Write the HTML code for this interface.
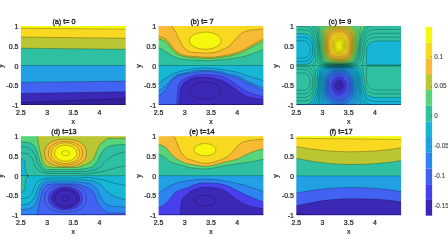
<!DOCTYPE html>
<html><head><meta charset="utf-8"><style>
html,body{margin:0;padding:0;background:#fff;width:448px;height:252px;overflow:hidden}
.t{position:absolute;font-family:"Liberation Sans",Arial,sans-serif;font-size:7px;color:#1e1e1e;white-space:pre;line-height:1;-webkit-text-stroke:0.22px #1e1e1e}
.cb{color:#3a3a3a;-webkit-text-stroke:0.1px #3a3a3a}
.tt{-webkit-text-stroke:0.35px #1e1e1e}
</style></head><body>
<svg width="448" height="252" viewBox="0 0 448 252" style="position:absolute;left:0;top:0">
<defs><mask id="cpa" maskUnits="userSpaceOnUse" x="0" y="0" width="448" height="252"><rect x="20.9" y="26" width="104.8" height="79" fill="#fff"/></mask><mask id="cpb" maskUnits="userSpaceOnUse" x="0" y="0" width="448" height="252"><rect x="158.6" y="26" width="104.8" height="79" fill="#fff"/></mask><mask id="cpc" maskUnits="userSpaceOnUse" x="0" y="0" width="448" height="252"><rect x="296.3" y="26" width="104.8" height="79" fill="#fff"/></mask><mask id="cpd" maskUnits="userSpaceOnUse" x="0" y="0" width="448" height="252"><rect x="20.9" y="136.2" width="104.8" height="79" fill="#fff"/></mask><mask id="cpe" maskUnits="userSpaceOnUse" x="0" y="0" width="448" height="252"><rect x="158.6" y="136.2" width="104.8" height="79" fill="#fff"/></mask><mask id="cpf" maskUnits="userSpaceOnUse" x="0" y="0" width="448" height="252"><rect x="296.3" y="136.2" width="104.8" height="79" fill="#fff"/></mask></defs>
<g mask="url(#cpa)">
<rect x="18.9" y="24" width="108.8" height="83" fill="#30209c"/>
<path d="M19.3 102.5 127.3 98.4 127.3 24.4 19.3 24.4 19.3 102.5Z" fill="#3c28b6"/>
<path d="M19.3 92.9 19.3 93.5 127.3 91.7 127.3 24.4 19.3 24.4 19.3 92.9Z" fill="#4262f2"/>
<path d="M19.3 81.9 19.3 82.4 127.3 81.1 127.3 24.4 19.3 24.4 19.3 81.9Z" fill="#22a0e4"/>
<path d="M19.3 64.8 19.3 65.5 127.3 65.5 127.3 24.4 19.3 24.4 19.3 64.8Z" fill="#2ec0a0"/>
<path d="M103.6 49.1 127.3 49.3 127.3 24.4 19.3 24.4 19.3 48.2 103.6 49.1Z" fill="#bac632"/>
<path d="M110.7 38.1 127.3 38.3 127.3 24.4 19.3 24.4 19.3 37 110.7 38.1Z" fill="#f8d820"/>
<path d="M50.8 28.5 127.3 29.1 127.3 24.4 19.3 24.4 19.3 28.3 50.8 28.5Z" fill="#f5f80c"/>
<path d="M19.3 102.6 127.3 98.4M19.3 93.5 127.3 91.7M19.3 82.4 127.3 81.1M19.3 65.5 127.3 65.5M19.3 48.2 127.3 49.3M19.3 37 127.3 38.3M19.3 28.3 127.3 29.1" fill="none" stroke="#000" stroke-opacity="0.50" stroke-width="0.50"/>
<path d="M20.9 104.6H125.7" stroke="#140a60" stroke-width="0.8" stroke-opacity="0.8"/>
</g>
<g mask="url(#cpb)">
<rect x="156.6" y="24" width="108.8" height="83" fill="#3c28b6"/>
<path d="M157 106.6 178.1 106.6 178.6 104.2 180.6 88.9 182 85.7 183.3 83.8 184.5 82.6 188.3 79.9 189.4 79.3 191.4 78.5 196.2 77.1 208.3 77.2 215 78.5 220.2 79.9 222.5 80.7 225.9 82.6 236 89.5 242 94 245.4 96 248.1 96.8 254.9 98.3 259.6 98.9 265 99 265 24.4 157 24.4 157 106.6Z" fill="#4840ec"/>
<path d="M157 106.6 169.8 106.6 174.6 105.3 175.9 104.6 176.6 104 177.9 87.3 178.8 84.7 179.8 82.6 182 80.4 186 78.1 189.4 76.7 191.4 76.1 194.8 75.3 197.5 74.8 204.9 74.5 211.7 74.7 217.1 75.3 222.5 76.6 225.8 77.9 229.2 79.7 242.2 88.8 246.8 91.4 252.1 93.6 256.1 94.9 261.6 96.2 265 96.6 265 24.4 157 24.4 157 106.6Z" fill="#4262f2"/>
<path d="M157 94.9 157 95.6 159.1 95.4 161.8 94 163.8 92.3 165.5 90.1 171.9 80.5 174.6 77.8 175.9 77.1 176.6 76.5 177.3 76.3 178.1 75.8 180.6 75.1 187.1 73.7 200.1 71.7 205.6 71 212.8 71.7 217.1 72.4 222.7 73.7 227.9 75.5 234.8 77.1 236.9 77.8 239.9 79.2 246.8 82.9 265 91.4 265 24.4 157 24.4 157 94.9Z" fill="#2c84f0"/>
<path d="M157 92.2 157 92.5 158.6 91.5 162.4 88.5 165.8 85.3 171.9 78.8 174.6 76.7 176.6 75.4 177.9 74.7 180.6 73.9 195.5 70.7 197.5 70.5 209 70.4 217.7 71.2 222.5 72.1 227 73.7 229.2 74.2 236 75.5 239.3 76.8 246.1 80.6 249.1 81.9 256.8 85.4 265 88.6 265 24.4 157 24.4 157 92.2Z" fill="#22a0e4"/>
<path d="M157 85.4 157 85.7 161.1 81.6 164.4 79 170.5 75.4 176.6 72.5 178.6 71.8 186.7 70 196.2 68.5 201.6 68.1 208.3 68.1 216.4 68.7 236 72 239.3 72.9 249.5 76.5 265 81.1 265 24.4 157 24.4 157 85.4Z" fill="#16b6d4"/>
<path d="M157 64.8 157 65.5 265 65.5 265 24.4 157 24.4 157 64.8Z" fill="#2ec0a0"/>
<path d="M191.5 60 204.3 60.6 212.3 60.7 217.1 60.3 235.3 58.2 242 56.9 247.4 55.5 265 49 265 24.4 157 24.4 157 46.8 163.1 50 170.8 55.2 175.2 57.3 178.6 58.4 182.7 59.5 191.5 60Z" fill="#58d47a"/>
<path d="M197 58 203.6 58.4 210.3 58.5 214.4 58.3 219.1 57.8 227.9 56.3 233.9 55 238.7 53.6 243.4 51.6 265 40 265 24.4 157 24.4 157 39.4 159.1 39.3 161.1 39.5 164.4 40.9 166.7 42.2 167.8 43.4 172.1 49.1 174.4 51.8 175.9 53 179.3 54.9 182.7 56.2 186 57 192.1 57.7 197 58Z" fill="#bac632"/>
<path d="M207.8 57.3 213 57.2 218.6 56.6 222.8 55.9 230.2 54.5 237.5 52.5 242.6 50.4 260.8 40.2 265 37.7 265 24.4 157 24.4 157 36.8 159.1 36.7 161.1 37 163.1 37.7 166.5 39.5 168.3 41.5 172.6 47.7 174.6 50 176.8 51.8 181.7 54.5 183.3 55.2 186.7 55.9 193.6 56.6 207.8 57.3Z" fill="#f6ba34"/>
<path d="M194.6 52.5 204.3 52.9 211.7 52.9 215.7 52.2 221 50.4 226.5 47.8 229.2 46.2 231.2 44.1 239.3 35 240.7 33.8 242 33 245.4 31.3 248.8 30.4 257.6 29.4 265 29.1 265 24.4 168.6 24.4 169.8 24.8 171.2 25.6 172.5 27.1 174 29.2 175.9 32.4 181.3 43.6 183.3 46.9 186.7 50.1 189.4 51.8 190.8 52.1 194.6 52.5Z" fill="#f8d820"/>
<path d="M178.1 106.6 178.6 104.2 180.6 88.9 182 85.7 183.3 83.8 184.5 82.6 188.3 79.9 189.4 79.3 191.4 78.5 196.2 77.1 208.3 77.2 215 78.5 220.2 79.9 222.5 80.7 225.9 82.6 236 89.5 242 94 245.4 96 248.1 96.8 254.9 98.3 259.6 98.9 265 99M169.8 106.6 174.9 105.2 176.6 104 177.9 87.3 179.1 84 180.4 81.9 182.7 80 184.7 78.8 187.4 77.5 189.4 76.7 194.1 75.4 197.5 74.8 204.9 74.5 211.7 74.7 217.1 75.3 222.5 76.6 225.8 77.9 229.2 79.7 242.2 88.8 246.8 91.4 252.1 93.6 256.1 94.9 261.6 96.2 265 96.6M157 95.6 159.1 95.4 160.4 94.8 162.4 93.5 163.8 92.3 165.5 90.1 171.9 80.5 174.6 77.8 175.9 77.1 176.6 76.5 177.3 76.3 178.1 75.8 180.6 75.1 187.1 73.7 200.1 71.7 205.6 71 212.8 71.7 217.1 72.4 222.7 73.7 227.9 75.5 234.8 77.1 236.9 77.8 239.9 79.2 246.8 82.9 265 91.4M157 92.5 159.5 90.8 162.9 88.1 165.8 85.3 171.9 78.8 174.6 76.7 176.6 75.4 177.9 74.7 180.6 73.9 195.5 70.7 197.5 70.5 209 70.4 217.7 71.2 222.5 72.1 227 73.7 229.2 74.2 236 75.5 239.3 76.8 246.1 80.6 249.1 81.9 256.8 85.4 265 88.6M157 85.7 161.1 81.6 164.4 79 170.5 75.4 176.6 72.5 178.6 71.8 186.7 70 196.2 68.5 200.9 68.1 208.3 68.1 216.4 68.7 235.3 71.8 238.7 72.7 246.1 75.4 251.5 77.1 265 81.1M157 65.5 265 65.5M157 46.8 163.1 50 170.8 55.2 174.6 57 178.6 58.4 182 59.3 184 59.6 206.3 60.7 211.7 60.7 216.4 60.4 233.9 58.4 239.3 57.4 244.1 56.4 248.1 55.3 265 49M157 39.4 159.1 39.3 161.1 39.5 163.1 40.3 165.8 41.6 167.1 42.6 167.8 43.4 172.1 49.1 174.6 52 175.9 53 177.9 54.2 181.3 55.8 183.3 56.4 186 57 191.4 57.6 202.2 58.3 209 58.5 213.7 58.4 219.8 57.7 231.2 55.7 236.6 54.3 240.7 52.8 243.4 51.6 265 40M157 36.8 159.1 36.7 161.1 37 163.1 37.7 166.5 39.5 168.3 41.5 172.6 47.7 175.1 50.4 177.9 52.5 181.7 54.5 183.3 55.2 186.8 55.9 193.5 56.6 207.8 57.3 213 57.2 218.6 56.6 222.8 55.9 230.2 54.5 237.5 52.5 242.7 50.4 265 37.7M168.6 24.4 170.6 25.1 171.9 26.3 173.2 28.1 175.9 32.4 178.9 38.8 182.5 45.6 183.3 46.9 185.4 48.9 188.1 51.1 190.1 52 193.5 52.4 198.9 52.7 206.3 53 211.7 52.9 215 52.4 219.3 51.1 225.2 48.5 227.9 47.1 229.2 46.2 231.2 44.1 239.3 35 240.7 33.8 244.1 31.9 246.8 30.9 250.8 30.1 258.9 29.3 265 29.1" fill="none" stroke="#000" stroke-opacity="0.50" stroke-width="0.50"/>
<path d="M221.2 40.7C221.2 42.1 220.4 43.8 219.1 45C217.7 46.2 215.5 47.4 213.2 48.1C211 48.9 208 49.3 205.3 49.3C202.7 49.3 199.6 48.9 197.4 48.1C195.1 47.4 192.9 46.2 191.5 45C190.2 43.8 189.4 42.1 189.4 40.7C189.4 39.3 190.2 37.6 191.5 36.4C192.9 35.2 195.1 34 197.3 33.3C199.6 32.5 202.7 32.1 205.3 32.1C208 32.1 211 32.5 213.2 33.3C215.5 34 217.7 35.2 219.1 36.4C220.4 37.6 221.2 39.3 221.2 40.7Z" fill="#f5f80c" stroke="#000" stroke-opacity="0.5" stroke-width="0.5"/>
<path d="M220.7 90.7C220.7 92.1 219.9 93.8 218.6 95C217.4 96.2 215.2 97.4 213 98.1C210.8 98.9 207.9 99.3 205.3 99.3C202.7 99.3 199.8 98.9 197.6 98.1C195.4 97.4 193.2 96.2 192 95C190.7 93.8 189.9 92.1 189.9 90.7C189.9 89.3 190.7 87.6 192 86.4C193.2 85.2 195.4 84 197.6 83.3C199.8 82.5 202.7 82.1 205.3 82.1C207.9 82.1 210.8 82.5 213 83.3C215.2 84 217.4 85.2 218.6 86.4C219.9 87.6 220.7 89.3 220.7 90.7Z" fill="none" stroke="#000" stroke-opacity="0.5" stroke-width="0.5"/>
<path d="M158.6 104.6H263.4" stroke="#140a60" stroke-width="0.8" stroke-opacity="0.8"/>
</g>
<g mask="url(#cpc)">
<rect x="294.3" y="24" width="108.8" height="83" fill="#3c28b6"/>
<path d="M294.7 106.6 402.7 106.6 402.7 24.4 294.7 24.4 294.7 106.6Z" fill="#3c28b6"/>
<path d="M294.7 106.6 402.7 106.6 402.7 24.4 294.7 24.4 294.7 106.6Z" fill="#3c28b6"/>
<path d="M294.7 106.6 402.7 106.6 402.7 24.4 294.7 24.4 294.7 106.6Z" fill="#3c28b6"/>
<path d="M294.7 106.6 402.7 106.6 402.7 24.4 294.7 24.4 294.7 106.6ZM338.6 86.8 338.1 86 338 85.4 338.6 84.4 339.3 84.2 339.9 84.7 340.2 85.4 340.1 86 339.9 86.5 339.3 87 338.6 86.8Z" fill="#3c28b6"/>
<path d="M294.7 106.6 402.7 106.6 402.7 24.4 294.7 24.4 294.7 106.6ZM338.6 89 337.9 88.7 337.2 88.1 336.8 87.4 336.6 86.7 336.4 85.4 336.7 84 337.2 83.1 337.9 82.5 339.3 82.1 340.5 82.6 341.1 83.3 341.7 84.7 341.8 86 341.4 87.4 340.6 88.4 339.9 88.9 338.6 89Z" fill="#3c28b6"/>
<path d="M294.7 106.6 402.7 106.6 402.7 24.4 294.7 24.4 294.7 106.6ZM337.9 89.9 336.6 88.8 335.8 87.4 335.6 86 335.7 84 336.4 82.6 337.2 81.6 338.6 81 339.9 81.1 341.3 81.9 342.2 83.3 342.6 85.1 342.5 86.7 342 88.3 341.3 89.2 340.6 89.7 339.3 90.1 337.9 89.9Z" fill="#3c28b6"/>
<path d="M294.7 106.6 402.7 106.6 402.7 24.4 294.7 24.4 294.7 106.6ZM338.6 90.9 337.2 90.4 335.9 89 335.2 87.4 334.9 85.4 335.3 83.3 336 81.9 337.2 80.8 337.9 80.4 339.3 80.2 340.6 80.6 341.3 81 342.2 81.9 343.1 84 343.3 86 342.8 88.1 342 89.5 340.6 90.6 339.9 90.8 338.6 90.9Z" fill="#4840ec"/>
<path d="M294.7 106.6 402.7 106.6 402.7 24.4 294.7 24.4 294.7 106.6ZM337.9 91.5 336.6 90.8 335.9 90.2 335 88.8 334.4 86.7 334.5 84 335.2 81.9 336.6 80.4 337.9 79.7 339.9 79.6 340.8 79.9 341.8 80.6 343 81.9 343.7 84 343.8 86.7 343.2 88.8 342 90.6 341.3 91.1 339.9 91.6 337.9 91.5Z" fill="#4840ec"/>
<path d="M294.7 106.6 402.7 106.6 402.7 24.4 294.7 24.4 294.7 106.6ZM337.9 92.4 336.6 91.8 335.9 91.3 334.5 89.5 334 88.1 333.8 86.7 333.8 84 334.5 81.9 335.9 80.1 336.6 79.6 337.9 78.9 339.9 78.9 341.3 79.3 342.1 79.9 342.8 80.6 343.7 81.9 344.2 83.3 344.5 84.7 344.3 87.4 344 88.8 343.3 90.1 342 91.6 339.9 92.5 337.9 92.4Z" fill="#4840ec"/>
<path d="M294.7 106.6 402.7 106.6 402.7 24.4 294.7 24.4 294.7 106.6ZM337.2 93 335.2 91.7 333.8 89.5 333.1 86.7 333.2 84 333.5 82.6 334.1 81.2 335.1 79.9 335.9 79.2 337.9 78.2 339.9 78.2 341.3 78.6 342.3 79.2 343.3 80.1 344.1 81.2 344.9 83.3 345.1 84.7 344.9 88.1 344.4 89.5 343.7 90.8 342 92.5 339.9 93.3 338.6 93.3 337.2 93Z" fill="#4840ec"/>
<path d="M294.7 106.6 402.7 106.6 402.7 24.4 294.7 24.4 294.7 106.6ZM337.9 94.3 336.6 93.9 335.2 93 334.4 92.2 333.4 90.8 332.5 88.1 332.3 84.7 332.7 82.6 333.3 81.2 334.8 79.2 335.9 78.3 337.2 77.7 338.6 77.4 339.9 77.4 342 78.1 343.4 79.2 344.5 80.6 345.2 81.9 345.8 84 345.8 87.4 345.1 90.1 344.4 91.5 343.3 92.8 342 93.7 340.6 94.2 339.3 94.4 337.9 94.3Z" fill="#4840ec"/>
<path d="M294.7 106.6 402.7 106.6 402.7 24.4 294.7 24.4 294.7 106.6ZM338.6 95.7 337.2 95.5 335.9 94.9 334.5 94.1 333.2 92.6 332.2 90.8 331.7 89.5 331.4 87.4 331.3 85.4 331.5 83.3 331.9 81.9 332.5 80.6 333.4 79.2 334.5 78.1 335.9 77.3 337.2 76.8 339.3 76.6 340.6 76.7 342 77.1 343.3 77.9 344.8 79.2 345.7 80.6 346.5 82.6 346.9 84.7 346.9 86.7 346.6 88.8 346 90.8 345.3 92.2 344.2 93.6 343.3 94.3 342 95.1 340.6 95.5 338.6 95.7Z" fill="#4262f2"/>
<path d="M294.7 106.6 402.7 106.6 402.7 24.4 294.7 24.4 294.7 106.6ZM335.9 96.3 334.5 95.6 333 94.3 332 92.9 331.2 91.2 330.6 89.5 330.4 87.4 330.4 84.7 330.7 82.6 331.4 80.6 332.2 79.2 333.2 78 334.5 76.9 335.9 76.3 337.9 75.7 339.9 75.7 341.3 75.9 343.3 76.7 344.7 77.7 346 79.2 346.8 80.6 347.5 82.6 347.8 84.7 347.8 87.4 347.4 90.1 346.7 92.1 345.8 93.6 344.7 94.8 343.3 95.8 342 96.5 339.9 97 337.9 96.9 335.9 96.3Z" fill="#4262f2"/>
<path d="M294.7 106.6 402.7 106.6 402.7 24.4 294.7 24.4 294.7 106.6ZM335.9 97.7 333.9 96.7 332.5 95.5 331.2 93.8 330.4 92.2 329.7 90.1 329.4 87.4 329.4 84.7 329.8 81.9 330.6 79.9 331.4 78.5 332.7 77.1 334.5 75.9 335.9 75.3 337.9 74.9 339.9 74.9 342 75.2 344 76.1 345.5 77.1 346.8 78.5 347.9 80.6 348.5 82.6 348.9 85.4 348.8 88.1 348.3 90.8 347.5 92.9 346.7 94.4 345.3 95.9 343.8 97 342 97.8 339.9 98.2 337.9 98.2 335.9 97.7Z" fill="#4262f2"/>
<path d="M294.7 106.6 402.7 106.6 402.7 24.4 294.7 24.4 294.7 106.6ZM335.9 99.1 333.2 97.7 331.8 96.6 330.5 94.9 329.2 92.2 328.5 88.8 328.4 86.7 328.5 84 329.1 80.8 329.8 79.2 331.2 77.3 332.5 76.1 333.9 75.2 335.9 74.5 337.9 74.1 339.9 74.1 342 74.4 344 75.1 346 76.3 347.5 77.8 348.7 79.9 349.4 82.4 349.7 85.4 349.7 88.1 349.4 91 348.7 93 347.4 95.4 346 97 344 98.4 342.3 99 339.9 99.4 337.9 99.4 335.9 99.1Z" fill="#4262f2"/>
<path d="M294.7 106.6 402.7 106.6 402.7 24.4 294.7 24.4 294.7 106.6ZM335.9 99.9 333.9 99.1 331.8 97.7 330 95.6 328.9 93.6 328.1 90.8 327.8 88.1 328 84 328.5 80.7 329.1 78.9 330.5 76.7 331.4 75.8 333.2 74.6 335.2 73.9 337.9 73.4 340.6 73.4 342.6 73.8 344.7 74.5 346.7 75.7 348 77.1 348.9 78.5 349.8 81.2 350.3 84.7 350.3 88.8 349.9 91.5 349.3 93.6 348 95.8 346.7 97.4 344.7 98.9 342.6 99.8 340.6 100.2 337.9 100.3 335.9 99.9Z" fill="#4262f2"/>
<path d="M294.7 106.6 402.7 106.6 402.7 24.4 294.7 24.4 294.7 106.6ZM339.3 101.1 336.6 100.9 334.5 100.2 332.3 99 330.5 97.4 329.1 95.6 328 92.9 327.5 90.8 327.3 88.1 327.5 84 327.8 81.2 328.5 78.9 329.8 76.5 331.2 75.1 333.2 73.8 335.9 73 338.6 72.7 342 72.9 344.7 73.6 346.2 74.4 348 76.1 349.2 77.8 350.1 80.6 350.7 83.3 350.9 87.4 350.8 90.1 350.2 92.9 349.4 95 348 97.1 346 99 344 100.1 342 100.8 339.3 101.1Z" fill="#2c84f0"/>
<path d="M294.7 106.6 402.7 106.6 402.7 24.4 294.7 24.4 294.7 106.6ZM337.9 101.8 335.2 101.3 332.5 100.1 330.5 98.5 328.7 96.3 327.7 94.3 327.1 92.2 326.8 88.1 327 83.3 327.6 79.9 328.5 77.5 329.6 75.8 331 74.4 333.2 73.1 335.2 72.4 337.9 72.1 341.3 72.2 343.3 72.5 344.7 72.9 346.2 73.7 348 75.2 349.4 77.1 350.5 79.9 351.2 83.3 351.4 88.1 351.3 91.5 350.5 94.3 349.5 96.3 348 98.2 346.7 99.4 344.7 100.7 342.6 101.4 340.6 101.8 337.9 101.8Z" fill="#2c84f0"/>
<path d="M294.7 106.6 402.7 106.6 402.7 24.4 294.7 24.4 294.7 106.6ZM337.2 102.6 333.9 101.7 331.5 100.4 329.2 98.4 327.8 96.2 326.8 93.6 326.4 90.8 326.4 86.7 326.7 81.9 327.3 79.2 328.4 76.5 329.4 75.1 331.2 73.6 333.5 72.3 336.1 71.7 339.3 71.5 342 71.6 344.7 72.3 347.3 73.7 348.7 75 350 77.1 351.1 79.9 351.7 83.3 352 88.1 351.8 92.2 351 94.9 350 97 348.3 99 346.7 100.4 344.7 101.5 342.6 102.2 339.9 102.7 337.2 102.6Z" fill="#2c84f0"/>
<path d="M294.7 106.6 402.7 106.6 402.7 24.4 294.7 24.4 294.7 106.6ZM336.6 103.3 333.9 102.6 331 101.1 328.8 99 327 96.3 326.3 94.3 325.8 90.1 325.9 84.7 326.3 81.2 327 78.5 328.1 75.8 329.2 74.4 331.2 72.9 333.9 71.7 336.6 71.1 339.9 71 342.6 71.3 345.3 72 348 73.5 349.4 74.9 350.6 77.1 351.8 80.6 352.3 84 352.5 89.5 352.2 93.6 351.4 95.9 350 98.3 348.7 99.8 346.7 101.4 344.7 102.4 342 103.2 339.3 103.5 336.6 103.3Z" fill="#2c84f0"/>
<path d="M294.7 106.6 402.7 106.6 402.7 24.4 294.7 24.4 294.7 106.6ZM335.2 103.8 332.5 102.9 329.7 101.1 327.7 99 326.1 96.3 325.5 92.9 325.3 88.1 325.6 82.6 326.4 78.5 327.5 75.8 328.5 74.2 330.5 72.6 332.3 71.7 335.2 70.8 338.6 70.5 342 70.7 344.7 71.2 347.3 72.3 349.1 73.7 350.6 75.8 351.8 78.5 352.5 81.2 352.9 84.7 353.1 90.1 352.7 94.4 351.8 97 350.5 99 348.7 101 346.5 102.5 344 103.6 341.3 104.2 337.9 104.3 335.2 103.8Z" fill="#2c84f0"/>
<path d="M294.7 106.6 402.7 106.6 402.7 24.4 294.7 24.4 294.7 106.6ZM334.5 104.5 331.8 103.5 329.1 101.8 327.1 99.6 325.6 97 324.9 92.9 324.8 88.1 325.1 81.9 326.1 77.8 327.1 75.2 328.1 73.7 329.8 72.3 332.5 71 335.9 70.3 339.3 70.1 342.6 70.3 345.5 71 348 72.1 349.4 73.1 351.2 75.8 352.4 78.5 353.2 82.6 353.6 88.1 353.6 92.2 353.2 95.6 351.9 98.4 350.5 100.4 348.7 102.1 346 103.7 343.3 104.6 340.6 105.1 337.2 105 334.5 104.5Z" fill="#22a0e4"/>
<path d="M294.7 106.6 402.7 106.6 402.7 24.4 294.7 24.4 294.7 106.6ZM337.2 106 333.2 105.1 329.8 103.5 328.5 102.5 327.1 101.1 325.2 98.4 324.6 95.6 324.2 90.8 324.4 84 324.8 80.6 325.7 77.1 326.9 74.4 327.8 73 329.8 71.6 332.5 70.5 335.9 69.8 339.9 69.6 344 70.1 347.1 71 348.7 71.8 349.4 72.3 351.1 74.4 352.5 77.1 353.5 80.6 353.9 84 354.3 90.8 354 95.6 353 98.4 351.7 100.4 350 102.2 348 103.7 345.3 105 342.6 105.7 339.9 106 337.2 106Z" fill="#22a0e4"/>
<path d="M294.7 106.6 334.9 106.6 331.8 105.6 329.1 104.2 327 102.5 324.9 99.7 324.1 97 323.7 92.9 323.7 88.8 324.1 81.9 324.7 78.5 325.3 76.5 326.6 73.7 327.8 72.1 329.8 70.9 332.5 69.9 335.9 69.4 339.3 69.2 342.6 69.4 346 70 348.7 71 350 72.1 351.8 74.4 353.1 77.1 353.9 79.9 354.4 83.3 354.9 90.1 354.9 94.3 354.6 97 353.7 99 351.9 101.8 349.6 103.8 346.7 105.5 343.3 106.6 402.7 106.6 402.7 24.4 294.7 24.4 294.7 106.6Z" fill="#22a0e4"/>
<path d="M294.7 106.6 331.6 106.6 328.7 105.2 326.9 103.8 325 101.8 323.9 99.7 323.2 95.6 323 91.5 323.4 83.3 324 79.2 324.7 76.5 325.5 74.4 326.7 72.3 327.8 71.3 329.8 70.2 332.5 69.4 335.9 68.9 339.3 68.8 342.6 68.9 345.3 69.3 348 70.1 349.6 71 351.1 72.3 352.6 74.4 353.8 77.1 354.6 79.9 355.1 83.3 355.6 90.8 355.6 94.3 355.3 97.7 354.1 100.4 352.1 103.1 349.5 105.2 346.6 106.6 402.7 106.6 402.7 24.4 294.7 24.4 294.7 106.6Z" fill="#22a0e4"/>
<path d="M294.7 106.6 329.2 106.6 326.4 104.9 324.7 103.2 323.4 101.1 322.9 99 322.4 94.9 322.4 90.1 322.9 81.9 323.8 77.1 324.5 75.1 325.4 73 327 71 327.8 70.4 329.7 69.6 332.5 68.9 335.9 68.5 339.3 68.4 342.6 68.5 345.8 68.9 348.5 69.6 349.8 70.3 351.4 71.7 353 73.7 354 75.8 354.9 78.5 355.6 82.6 356.3 90.8 356.3 95.6 355.9 99 354.6 101.8 352.9 103.8 350.7 105.7 349.1 106.6 402.7 106.6 402.7 24.4 294.7 24.4 294.7 106.6Z" fill="#22a0e4"/>
<path d="M294.7 106.6 326 106.6 324.2 105.2 322.5 103.2 321.9 98.4 321.7 92.2 322.2 83.3 322.7 79.2 323.7 75.2 325.1 72.3 326 71 327.1 69.9 329.1 69.1 332.5 68.4 335.9 68.1 339.3 68 342.6 68.1 346 68.5 348.7 69 349.9 69.6 351.8 71 353 72.3 354.1 74.3 355 76.5 355.9 79.9 356.3 83.3 357.1 92.9 357.3 99.7 356.5 101.8 355.2 103.8 354 105.2 352.2 106.6 402.7 106.6 402.7 24.4 294.7 24.4 294.7 106.6Z" fill="#22a0e4"/>
<path d="M294.7 106.6 323.3 106.6 321.7 105.2 321.3 104.5 321 101.8 320.8 97.7 321.8 81.2 322.3 77.8 323.5 73.7 325 71 326.3 69.6 327.1 69.1 329.8 68.4 332.5 68 339.3 67.6 346 68 348.7 68.4 350 68.9 351.4 69.7 352.8 71 354.3 73 355.3 75.1 355.8 76.5 356.6 79.9 358.4 95.6 358.7 100.4 358.5 101.8 357.5 103.8 356.5 105.2 354.9 106.6 402.7 106.6 402.7 24.4 294.7 24.4 294.7 106.6Z" fill="#16b6d4"/>
<path d="M294.7 106.6 320 106.6 319.7 102.5 319.7 98.4 321.1 81.2 322 75.8 322.6 73.7 323.4 71.7 324.9 69.6 325.8 68.9 327.1 68.3 331.9 67.6 339.3 67.2 346.3 67.6 348.7 67.8 350 68.2 351.5 68.9 353.3 70.3 354.5 71.7 355.7 73.7 356.7 76.5 357.4 79.2 358.2 86.7 359.7 96.3 360.1 101.1 360.5 102.5 360.5 103.2 359.9 104.5 358.2 106.6 402.7 106.6 402.7 24.4 294.7 24.4 294.7 106.6Z" fill="#16b6d4"/>
<path d="M294.7 106.6 317.2 106.6 318.3 102.3 318.7 97 320.5 78.5 321.3 74.4 322.5 71 323.4 69.6 324 68.9 325.1 68.2 326.4 67.7 331.8 67.1 339.3 66.9 346.7 67.1 350 67.6 351.9 68.2 353.4 69 354.8 70.2 355.9 71.7 357.2 74.4 358.1 77.8 359.3 87.4 361.1 97 362.2 99.9 364.9 105.2 363.9 106.6 402.7 106.6 402.7 24.4 294.7 24.4 294.7 106.6Z" fill="#16b6d4"/>
<path d="M294.7 106.6 314.6 106.6 317 99.7 317.3 98.4 318.8 87.4 319.4 80.6 319.9 76.5 320.8 72.3 321.9 69.6 323.1 68.2 324.4 67.6 325.8 67.2 330.5 66.8 337.2 66.5 345.3 66.7 350 67 352.4 67.6 354.1 68.2 355.2 68.9 356.1 69.9 357.5 72.3 358.9 76.5 359.5 79.9 360.3 87.4 360.8 90.3 361.5 92.7 362.9 95.9 364.4 99 366.5 102.5 367.6 103.8 371 104.8 375 105.3 402.7 105.4 402.7 24.4 294.7 24.4 294.7 40.8 304.2 40.8 306.2 41.4 307.5 42.3 309.1 44.3 309.9 46.3 310.3 49.1 310.1 51.8 309.4 53.9 308.1 55.9 306.2 57.4 304.2 58 294.7 58 294.7 106.6Z" fill="#16b6d4"/>
<path d="M294.7 106.6 310.9 106.6 311.9 105.9 315 99.4 317 93.5 318 86.7 318.8 77.1 320 69.6 320.8 68.2 321.8 67.6 323.8 66.9 326.4 66.5 337.9 66.2 348.7 66.4 353.4 67 355.2 67.6 356.4 68.2 357.5 69.2 358.2 70.3 359.6 73.7 360.3 77.1 361.3 85.4 362.6 90.1 364.9 95.2 367.6 99.6 371 100.8 375 101.5 402.7 101.5 402.7 24.4 294.7 24.4 294.7 37.2 304.8 37.3 306.9 37.9 308.2 38.6 310.2 40.6 311.6 42.7 312.4 45.6 312.7 50.4 312.4 53.9 311.6 56.1 309.9 58.7 308.9 59.6 307.5 60.6 306.2 61.2 304.2 61.6 294.7 61.6 294.7 106.6Z" fill="#16b6d4"/>
<path d="M294.7 104.5 305.5 104.5 308.9 103.7 310.9 102.5 312.9 99 314.4 95.6 315.6 92.1 316.6 88.1 317 85.9 317.3 81.9 317.6 70.3 317.9 68.2 318.3 67.6 319.4 66.9 321.7 66.4 325.1 66.1 336.6 65.9 348.7 65.9 354.1 66.3 356.8 66.8 358.1 67.2 359.5 68.2 360.2 69.2 360.8 70.9 362 75.8 362.8 83.3 363.5 86.7 365.3 91.5 366.9 94.5 367.6 95.3 371 96.8 373 97.3 375 97.6 402.7 97.7 402.7 64.9 368.2 64.8 366.7 64.1 366.5 63.4 366.5 51.8 366.6 49.8 366.8 48.4 367.3 47 368.3 45.3 369.1 44.3 370.6 42.9 372.3 41.9 373.7 41.4 376.4 41 402.7 41 402.7 24.4 294.7 24.4 294.7 33.6 304.2 33.6 305.5 33.7 308.2 34.7 310.9 36.6 312.6 40.2 313.6 43.6 314.1 47 314.3 51.8 314.1 56.6 313.6 58.6 311.7 61.4 309.6 63.3 307.7 64.1 305.5 64.4 294.7 64.5 294.7 104.5Z" fill="#2ec0a0"/>
<path d="M294.7 100.4 294.7 101 304.2 101 306.9 100.6 308.9 99.9 310.2 99.1 310.9 98.4 312.3 95.9 314.1 91.5 315.2 87.4 315.7 83.3 315.9 77.8 315.7 73 315.3 69.6 315 68.7 314.3 67.8 312.3 65.5 294.7 65.5 294.7 100.4ZM373.8 93.6 376.4 93.8 402.7 93.8 402.7 65.5 362.9 65.5 362.5 66.2 362.7 68.2 363.9 75.8 364.6 82.6 365 85.4 365.9 88.1 366.9 90 368.8 91.5 371 92.7 373.8 93.6ZM312.9 64.8 312.9 65.5 362.2 65.5 362.5 64.8 362.8 62.1 363.8 55.9 364.9 46.3 365.9 42.9 366.9 41 368.9 39.4 371 38.3 373 37.6 375 37.2 402.7 37.2 402.7 24.4 294.7 24.4 294.7 30 304.2 30 306.2 30.2 307.5 30.6 310.2 31.9 310.9 32.6 312.7 36.1 314.3 40.2 315.3 44.3 315.7 47.7 315.9 53.2 315.7 58 315.3 61.4 314.6 62.8 312.9 64.8Z" fill="#2ec0a0"/>
<path d="M294.7 97 294.7 97.4 304.2 97.4 306.2 97.1 308.2 96.3 309.6 95.5 310.9 94.4 311.6 93.1 313 89.5 314 85.4 314.3 79.9 314.1 74.4 313.6 72.4 312.3 70.3 310.3 68.2 308.9 67.3 307.7 66.9 305.5 66.6 294.7 66.5 294.7 97ZM373.3 89.5 375 89.9 376.4 90 402.7 90 402.7 66.1 368.9 66.1 368.2 66.2 366.7 66.9 366.5 68.2 366.5 79.9 366.8 82.6 367.7 84.7 369.1 86.7 371 88.3 373.3 89.5ZM323.4 64.8 333.9 65.1 348.7 65.1 354.1 64.7 356.8 64.2 358.1 63.8 359.5 62.8 360.2 61.8 360.8 60.1 362 55.2 362.8 47.7 363.5 44.3 365.3 39.5 366.9 36.5 367.6 35.7 371 34.2 373 33.7 375 33.4 402.7 33.3 402.7 24.4 294.7 24.4 294.7 26.4 305.5 26.5 308.9 27.3 310.9 28.5 312.9 32 314.4 35.4 315.6 38.9 316.6 42.9 317 45.1 317.3 49.1 317.6 60.7 317.9 62.8 318.3 63.4 319.4 64.1 323.4 64.8Z" fill="#2ec0a0"/>
<path d="M294.7 93.6 294.7 93.8 304.2 93.8 305.5 93.6 307.4 92.9 308.9 91.8 310.2 90.4 311.3 88.8 312.3 86.1 312.6 84 312.7 79.9 312.4 77.1 311.7 75.1 310.4 73 308.9 71.4 307.5 70.4 306.2 69.8 304.2 69.4 294.7 69.4 294.7 93.6ZM323.8 64.1 325.8 64.4 332.5 64.7 345.3 64.7 348.7 64.6 352.1 64.2 354.1 63.8 355.4 63.3 356.4 62.8 357.5 61.8 358.9 59.3 360 55.2 361.3 45.6 362.2 42.2 364.4 36.7 365.9 34 367.6 31.4 371 30.2 375 29.5 402.7 29.5 402.7 24.4 310.9 24.4 311.9 25.1 314.2 29.9 315.6 33.3 317 37.5 318 44.3 318.8 53.9 320 61.4 320.4 62.2 321 63 321.8 63.4 323.8 64.1Z" fill="#2ec0a0"/>
<path d="M294.7 90.1 304.8 90.1 306.9 89.2 308.6 87.4 309.4 86 310.1 84 310.3 81.9 310.2 79.9 309.7 77.8 309 76.5 308.1 75.1 306.9 74 305.5 73.3 304.2 73 294.7 73 294.7 90.1ZM329 64.1 338.6 64.5 348.7 64.2 352.7 63.3 354.1 62.8 355.4 61.8 356.4 60.7 357.2 59.3 358.7 55.2 359.4 51.8 360.4 42.9 361.5 38.3 362.9 35.1 364.4 32 366.5 28.5 367.6 27.2 371 26.2 375 25.7 402.7 25.6 402.7 24.4 314.6 24.4 317 31.3 317.3 32.6 318.8 43.6 319.7 53.3 320.4 57 321.2 60 322.4 62.1 323.7 63.1 325.8 63.8 329 64.1Z" fill="#2ec0a0"/>
<path d="M327.7 63.4 332.5 63.9 337.9 64.1 343.3 64 348.7 63.7 350.7 63.2 352.7 62.4 354.1 61.5 354.9 60.7 356.6 58 357.8 54.5 358.5 51.1 359.3 43.6 360.8 34.8 361.8 32 364.9 25.8 363.9 24.4 317.2 24.4 318.3 28.7 318.7 34 319.8 44.3 320.3 50.4 321.3 56.6 322.4 59.8 323.7 61.8 325.8 63.1 327.7 63.4Z" fill="#58d47a"/>
<path d="M331.9 63.4 340.6 63.8 344.7 63.6 348.7 63.2 350.7 62.5 352.1 61.7 353.3 60.7 354.8 59 356.3 55.9 357.2 52.5 359.7 34.7 360.1 29.9 360.5 28.5 360.5 27.8 359.9 26.5 358.2 24.4 320 24.4 319.7 29.9 319.8 35.4 321.1 50.4 321.7 53.9 322.3 56.6 323.1 58.6 323.8 60 324.9 61.4 325.8 62.1 326.4 62.5 327.8 62.8 331.9 63.4Z" fill="#58d47a"/>
<path d="M330.4 62.8 335.2 63.3 339.9 63.4 344.7 63.2 348.7 62.6 350.7 61.7 352.1 60.7 353.4 59.3 354.3 58 355.8 54.5 356.6 51.1 358.4 35.4 358.7 30.6 358.5 29.2 357.5 27.2 356.5 25.8 354.9 24.4 323.3 24.4 321.7 25.8 321.3 26.5 321.1 27.8 320.8 34 321.6 47.7 322.3 53.2 323.5 57.3 324.2 58.7 325.6 60.7 327.1 61.9 330.4 62.8Z" fill="#58d47a"/>
<path d="M333.9 62.8 337.9 63 342 62.9 345.3 62.6 348.7 62 350 61.3 351.8 60 353 58.7 354.2 56.6 355.4 53.2 356.2 49.1 357 38.8 357.3 31.3 356.5 29.2 355.2 27.2 354 25.8 352.2 24.4 326 24.4 324.2 25.8 322.5 27.8 321.8 35.4 321.8 40.2 322.4 49.8 322.8 52.5 323.5 55.2 325.1 58.7 326 60 327.1 61.1 329.9 62.1 333.9 62.8Z" fill="#58d47a"/>
<path d="M332.4 62.1 336.6 62.6 340.6 62.6 344.7 62.3 348 61.5 349.8 60.7 351.4 59.4 352.6 58 353.7 55.9 354.9 52.5 355.7 47.7 356.3 38.1 356.1 32.6 355.9 32 355.3 30.6 354.6 29.2 353.5 27.8 351.4 25.8 349.1 24.4 329.2 24.4 327.1 25.6 325.8 26.7 324.1 28.5 323.4 29.9 322.5 34.7 322.4 39.5 322.8 48.4 323.8 53.9 325.1 57.3 325.9 58.7 327.1 60.2 329.1 61.2 332.4 62.1Z" fill="#58d47a"/>
<path d="M335.8 62.1 339.3 62.2 343.3 62 346.5 61.4 348.7 60.6 350.5 59.3 352.1 57.4 353.3 55.2 354.1 53 355 48.4 355.5 41.5 355.6 36.7 355.3 33.3 354.1 30.6 352.1 27.9 349.5 25.8 346.6 24.4 331.6 24.4 328.7 25.8 326.9 27.2 325 29.2 323.9 31.3 323.1 36.1 323.1 42.2 323.6 49.8 324.1 52.5 324.9 55.2 326.3 58 327.1 59.1 327.8 59.7 329.6 60.7 331.2 61.2 335.8 62.1Z" fill="#bac632"/>
<path d="M334 61.4 337.9 61.8 342 61.7 345.3 61.2 348 60.3 349.5 59.3 351.4 57.3 352.6 55.2 353.6 52.5 354.4 48.4 354.8 42.2 354.9 37.4 354.6 34 353.7 32 352.9 30.6 350.7 28 348 26.1 344.7 24.8 343.3 24.4 334.9 24.4 332.5 25.1 329.8 26.3 327.7 27.8 325.8 29.9 324.6 32 323.8 36.7 323.7 42.2 324.1 49.1 324.7 52.5 325.3 54.5 326.6 57.3 327.8 58.9 330.5 60.4 334 61.4Z" fill="#bac632"/>
<path d="M333.2 60.7 336.6 61.3 339.9 61.4 343.3 61.1 346.7 60.2 348.7 59.2 350.1 58 351.5 55.9 352.7 53.2 353.6 49.8 354 46.3 354.2 39.5 353.8 34.7 352.6 32 350.5 29.2 348 27.3 344.7 25.8 342 25.2 338.6 25 335.2 25.4 332.5 26.2 329.8 27.5 327.8 29.2 326 31.3 325.1 33.1 324.4 37.4 324.2 42.2 324.5 48.4 325.5 53.2 326.5 55.9 327.8 58 329.8 59.4 333.2 60.7Z" fill="#bac632"/>
<path d="M335.6 60.7 339.3 60.9 342.6 60.7 345.5 60 348 58.9 349.4 57.9 350.9 55.9 352.1 53.2 352.9 50.4 353.4 47 353.7 40.2 353.3 36.1 352.6 34 351 31.3 348.7 28.9 346 27.3 342.6 26.2 339.3 25.9 336.6 26.1 333.9 26.7 331.2 27.8 329.1 29.2 327.2 31.3 325.8 33.6 325.3 35.4 324.8 40.2 324.9 47 325.5 51.1 326.5 54.5 327.8 56.9 329.7 58.7 332.5 60 335.6 60.7Z" fill="#bac632"/>
<path d="M334.6 60 337.9 60.5 341.3 60.4 344 59.9 346.7 59 348.7 57.7 349.7 56.6 351 54.5 352.1 51.5 352.8 47.7 353.1 42.2 352.9 37.4 352.4 35.4 350.7 32.3 348.7 30 346 28.2 343.3 27.2 340.6 26.8 337.9 26.7 335.2 27.2 332.5 28.1 330.5 29.3 328.5 31 326.8 33.3 325.9 35.4 325.4 39.5 325.3 44.3 325.7 49.1 326.6 53.2 327.8 55.8 329.1 57.4 331.8 59.1 334.6 60Z" fill="#bac632"/>
<path d="M338 60 341.3 59.9 344 59.4 346.7 58.3 348.7 56.9 350 55 351.2 52.5 351.9 49.8 352.4 46.3 352.5 41.5 352.3 38.1 351.5 35.4 350.5 33.3 348.7 31.2 346 29.2 343.3 28.1 339.9 27.5 337.2 27.6 334.5 28.2 331.8 29.4 329.8 30.9 328.2 32.6 326.7 35.4 326.2 37.4 325.9 40.2 325.8 44.3 326.2 49.1 327 52.5 328.1 55.2 329.8 57.2 332.1 58.7 334.5 59.5 338 60Z" fill="#bac632"/>
<path d="M336.1 59.3 339.3 59.5 342.1 59.3 344.7 58.7 347.3 57.3 348.7 56 350 53.9 350.8 51.8 351.5 49.1 351.9 44.3 351.9 40.2 351.7 38.1 350.7 35.4 349.4 33.2 347.4 31.1 344.7 29.5 342 28.6 339.3 28.3 336.6 28.6 333.9 29.3 331.8 30.4 329.9 32 328.5 33.7 327.2 36.1 326.7 38.1 326.3 42.2 326.5 47.7 327.1 51.1 328 53.9 329.4 55.9 331.2 57.4 333.5 58.7 336.1 59.3Z" fill="#f6ba34"/>
<path d="M335.6 58.7 338.6 58.9 341.3 58.8 343.3 58.5 346 57.4 347.9 55.9 349 54.5 350 52.5 350.8 49.8 351.3 46.3 351.4 40.9 351.1 38.8 350.2 36.1 348.7 33.6 346.7 31.6 344.7 30.3 342 29.4 339.9 29.1 337.2 29.2 334.5 29.9 332.5 30.9 330.5 32.5 329.2 34 328 36.1 327.3 38.1 326.8 42.2 327 47 327.5 50.4 328.3 53.2 329.6 55.2 331.2 56.7 333.3 58 335.6 58.7Z" fill="#f6ba34"/>
<path d="M335.6 58 338.6 58.3 341.3 58.2 344 57.6 346 56.7 347.4 55.6 348.7 54 349.7 51.8 350.3 49.8 350.8 46.3 350.9 41.5 350.6 39.5 349.7 36.7 348.6 34.7 346.7 32.6 344.7 31.2 342 30.2 339.9 29.9 337.2 30 335.2 30.5 333.2 31.4 331.4 32.6 329.8 34.4 328.5 36.7 327.8 38.8 327.4 41.5 327.4 46.3 327.7 49.1 328.5 52.1 329.4 53.9 331.2 55.9 333.2 57.2 335.6 58Z" fill="#f6ba34"/>
<path d="M335.8 57.3 337.9 57.6 340.6 57.6 343.3 57 345.3 56.2 346.7 55.3 348.1 53.9 348.9 52.5 349.8 49.8 350.2 47 350.4 42.9 350.1 40.2 349.3 37.4 348 35.2 346 33 344 31.7 341.3 30.9 338.6 30.7 336.6 30.9 334.5 31.6 332.5 32.8 331.1 34 329.6 36.1 328.7 38.1 328.1 40.2 327.8 42.9 328 47 328.3 49.8 329.1 52.1 330.2 53.9 331.4 55.2 333.7 56.6 335.8 57.3Z" fill="#f6ba34"/>
<path d="M336.2 56.6 338.6 56.9 340.6 56.8 342.6 56.4 344.7 55.6 346.2 54.5 347.5 53.2 348.7 51.1 349.3 49.1 349.7 46.3 349.7 42.9 349.4 40.2 348.7 38 347.4 35.6 346 34 344 32.6 342 31.9 339.9 31.6 337.9 31.6 335.9 31.9 334.3 32.6 333.1 33.3 331.2 35.2 330.5 36.1 329.1 38.9 328.5 42.2 328.4 45 328.6 47.7 329.2 50.4 330.2 52.5 332 54.5 333.9 55.8 336.2 56.6Z" fill="#f6ba34"/>
<path d="M336.8 55.9 339.3 56.2 341.3 55.9 343.3 55.3 344.7 54.5 346.2 53.2 347.2 51.8 348.2 49.8 348.7 47.7 348.9 45 348.7 42.2 348.1 39.5 347.4 37.7 346.2 36.1 344.7 34.5 342.6 33.4 340.6 32.8 338.6 32.7 336.6 33.1 334.5 33.9 333.4 34.7 332 36.1 331 37.4 330.1 39.5 329.6 41.5 329.3 44.3 329.4 47 329.8 49.1 330.6 51.1 331.8 53 333.2 54.3 334.8 55.2 336.8 55.9Z" fill="#f8d820"/>
<path d="M337.8 55.2 339.3 55.3 341.3 55.1 343.3 54.3 344.7 53.3 346 51.8 346.8 50.4 347.3 49.1 347.8 47 347.9 44.3 347.7 42.2 347.2 40.2 346.2 38.1 344.7 36.2 343.3 35.2 342 34.5 339.9 34 337.9 34.1 336.6 34.4 335.2 35 333.7 36.1 332.5 37.3 331.6 38.8 330.8 40.9 330.4 42.9 330.3 45.6 330.5 47.7 331.1 49.8 331.7 51.1 332.7 52.5 334.2 53.9 335.9 54.7 337.8 55.2Z" fill="#f8d820"/>
<path d="M336.2 53.9 337.9 54.3 339.3 54.4 341.3 54.1 342.6 53.6 344.1 52.5 345.3 51.1 346 49.8 346.5 48.4 346.9 46.3 346.9 44.3 346.6 42.2 346 40.1 345.3 38.8 344 37.2 342.6 36.2 340.6 35.5 339.3 35.3 337.9 35.4 336.6 35.8 335.2 36.4 334 37.4 333.2 38.4 332.2 40.2 331.7 41.5 331.4 43.6 331.3 45.6 331.5 47.7 331.9 49.1 332.5 50.4 333.4 51.8 334.5 52.9 336.2 53.9Z" fill="#f8d820"/>
<path d="M336.9 53.2 337.9 53.5 339.3 53.6 340.6 53.4 342 52.9 343.4 51.8 344.5 50.4 345.2 49.1 345.7 47.7 345.9 46.3 345.9 44.3 345.6 42.2 345.1 40.9 344.4 39.5 343.3 38.2 342 37.3 340.6 36.8 339.3 36.6 337.9 36.7 336.6 37.1 335.2 38 334.4 38.8 333.4 40.2 332.5 42.8 332.3 44.3 332.3 46.3 333 49.1 333.7 50.4 334.8 51.8 335.9 52.7 336.9 53.2Z" fill="#f8d820"/>
<path d="M337.1 52.5 339.3 52.9 340.6 52.7 342 52.1 343.6 50.4 344.4 49.1 344.9 47.7 345.1 46.3 345.1 44.3 344.9 42.9 344.4 41.5 343.7 40.2 342.6 39 340.6 37.9 339.3 37.7 337.9 37.8 335.9 38.8 334.5 40.2 333.8 41.5 333.4 42.9 333.1 45 333.1 46.3 333.8 49.1 335.2 51.2 337.1 52.5Z" fill="#f8d820"/>
<path d="M337.2 51.8 338.6 52.2 339.9 52.1 341 51.8 342 51.2 343.3 49.8 344 48.4 344.4 47 344.4 44.3 344.2 42.9 343.7 41.5 342.7 40.2 342 39.4 339.9 38.5 337.9 38.6 336.6 39.2 335.9 39.7 334.5 41.5 333.9 43.6 333.7 46.3 334.2 48.4 335.4 50.4 337.2 51.8Z" fill="#f5f80c"/>
<path d="M337.4 51.1 339.3 51.5 340.6 51.2 341.3 50.9 342 50.3 343 49.1 343.7 47 343.8 44.3 343.2 42.2 342 40.4 341.3 39.9 339.9 39.4 337.9 39.5 336.6 40.2 335.3 41.5 334.5 43.6 334.4 46.3 334.9 48.4 335.9 50 337.4 51.1Z" fill="#f5f80c"/>
<path d="M337.7 50.4 339.3 50.8 340.6 50.4 341.3 50 342.6 48.4 343.1 47 343.3 45 343 43.6 342.6 42.5 342 41.5 341.3 40.9 339.9 40.2 338.6 40.1 337.2 40.6 335.9 42 335.2 43.6 334.9 45.6 335.3 47.7 335.9 48.9 336.6 49.7 337.7 50.4Z" fill="#f5f80c"/>
<path d="M337.9 49.8 339.3 50 340.6 49.6 341.3 49.1 342 48.2 342.4 47 342.6 45 342.1 42.9 341.3 41.8 339.9 41 338.6 40.9 337.2 41.5 336.1 42.9 335.7 44.3 335.6 45.6 335.9 47.4 336.6 48.7 337.9 49.8Z" fill="#f5f80c"/>
<path d="M337.7 48.4 338.6 48.8 339.9 48.7 340.6 48.3 341.5 47 341.8 45.6 341.6 44.3 340.9 42.9 339.9 42.1 338.6 42 337.9 42.3 337.2 42.9 336.6 44.3 336.4 45.6 336.6 46.6 337.1 47.7 337.7 48.4Z" fill="#f5f80c"/>
<path d="M338.3 46.3 338.6 46.6 339.3 46.8 339.9 46.3 340.2 45.6 340.1 45 339.9 44.5 339.3 44 338.6 44.2 338.1 45 338 45.6 338.3 46.3Z" fill="#f5f80c"/>
<path d="M320 106.6 319.7 102.5 319.7 98.4 321.1 81.2 322 75.8 322.6 73.7 323.4 71.7 324.9 69.6 325.8 68.9 327.1 68.3 331.9 67.6 339.3 67.2 346.3 67.6 348.7 67.8 350 68.2 351.5 68.9 353.3 70.3 354.5 71.7 355.7 73.7 356.7 76.5 357.4 79.2 358.2 86.7 359.7 96.3 360.1 101.1 360.5 102.5 360.5 103.2 359.9 104.5 358.2 106.6M317.2 106.6 318.3 102.3 318.7 97 320.5 78.5 321.3 74.4 322.5 71 323.4 69.6 324 68.9 325.1 68.2 326.4 67.7 331.8 67.1 339.3 66.9 346.7 67.1 350 67.6 351.9 68.2 353.4 69 354.8 70.2 355.9 71.7 357.2 74.4 358.1 77.8 359.3 87.4 361.1 97 362.2 99.9 364.9 105.2 363.9 106.6M314.6 106.6 317 99.7 317.3 98.4 318.8 87.4 319.4 80.6 319.9 76.5 320.8 72.3 321.9 69.6 323.1 68.2 324.4 67.6 325.8 67.2 330.5 66.8 337.2 66.5 345.3 66.7 350 67 352.4 67.6 354.1 68.2 355.2 68.9 356.1 69.9 357.5 72.3 358.9 76.5 359.5 79.9 360.3 87.4 360.8 90.3 361.5 92.7 362.9 95.9 364.4 99 366.5 102.5 367.6 103.8 371 104.8 375 105.3 402.7 105.4M294.7 40.8 304.2 40.8 306.2 41.4 307.5 42.3 309.1 44.3 309.9 46.3 310.3 49.1 310.1 51.8 309.4 53.9 308.1 55.9 306.2 57.4 304.2 58 294.7 58M310.9 106.6 311.9 105.9 314.2 101.1 315.6 97.7 317 93.5 318 86.7 318.8 77.1 320 69.6 320.8 68.2 321.8 67.6 323.8 66.9 326.4 66.5 337.9 66.2 348.7 66.4 353.4 67 355.2 67.6 356.4 68.2 357.5 69.2 358.2 70.3 359.6 73.7 360.3 77.1 361.3 85.4 362.6 90.1 364.9 95.2 367.6 99.6 371 100.8 375 101.5 402.7 101.5M294.7 37.2 304.8 37.3 306.9 37.9 308.2 38.6 310.2 40.6 311.6 42.7 312.4 45.6 312.7 50.4 312.4 53.9 311.6 56.1 309.9 58.7 308.9 59.6 307.5 60.6 306.2 61.2 304.2 61.6 294.7 61.6M294.7 104.6 305.5 104.5 308.9 103.7 310.9 102.5 312.9 99 314.4 95.6 315.6 92.1 316.6 88.1 317 85.9 317.3 81.9 317.6 70.3 317.9 68.2 318.3 67.6 319.4 66.9 321.7 66.4 325.1 66.1 336.6 65.9 348.7 65.9 354.1 66.3 356.8 66.8 358.1 67.2 359.5 68.2 360.2 69.2 360.8 70.9 362 75.8 362.8 83.3 363.5 86.7 365.3 91.5 366.9 94.5 367.6 95.3 371 96.8 373 97.3 375 97.6 402.7 97.7M402.7 64.9 368.2 64.8 366.7 64.1 366.5 63.4 366.5 51.8 366.6 49.8 366.8 48.4 367.3 47 368.3 45.3 369.1 44.3 370.6 42.9 372.3 41.9 373.7 41.4 376.4 41 402.7 41M294.7 33.6 304.2 33.6 305.5 33.7 308.2 34.7 310.9 36.6 312.6 40.2 313.6 43.6 314.1 47 314.3 51.8 314.1 56.6 313.6 58.6 311.7 61.4 309.6 63.3 307.7 64.1 305.5 64.4 294.7 64.5M294.7 101 305.5 100.9 307.5 100.4 308.9 99.9 310.2 99.1 310.9 98.4 313.3 93.6 314.9 88.8 315.6 84.7 315.9 77.8 315.7 73 315.3 69.6 315 68.7 314.3 67.8 312.3 65.5 294.7 65.5M402.7 65.5 362.9 65.5 362.5 66.2 362.8 68.9 363.9 75.8 364.6 82.6 365.2 86 366.2 88.8 366.9 90 368.8 91.5 370.3 92.4 372.3 93.2 375.7 93.8 402.7 93.8M294.7 30 304.2 30 306.9 30.4 308.9 31.1 310.2 31.9 310.9 32.6 312.1 34.7 313.8 38.8 315 42.9 315.5 45.6 315.9 51.1 315.8 56.6 315.4 60.7 315 62.3 312.9 64.8 312.9 65.5 362.2 65.5 362.5 64.8 362.8 62.1 363.9 55.2 364.6 48.4 365.2 45 366.2 42.2 366.9 41 368.8 39.5 370.3 38.6 372.3 37.8 375.7 37.2 402.7 37.2M294.7 97.4 304.2 97.4 305.5 97.3 308.2 96.3 310.9 94.4 312.6 90.8 313.6 87.4 314.1 84 314.3 79.2 314.1 74.4 313.6 72.4 311.7 69.6 309.6 67.7 307.7 66.9 305.5 66.6 294.7 66.5M402.7 66.1 368.2 66.2 366.7 66.9 366.5 67.6 366.5 79.2 366.6 81.2 366.8 82.6 367.3 84 368.3 85.7 369.1 86.7 370.6 88.1 372.3 89.1 373.7 89.6 376.4 90 402.7 90M294.7 26.4 305.5 26.5 308.9 27.3 310.9 28.5 312.9 32 314.4 35.4 315.6 38.9 316.6 42.9 317 45.1 317.3 49.1 317.6 60.7 317.9 62.8 318.3 63.4 319.4 64.1 321.7 64.6 325.1 64.9 336.6 65.1 348.7 65.1 354.1 64.7 356.8 64.2 358.1 63.8 359.5 62.8 360.2 61.8 360.8 60.1 362 55.2 362.8 47.7 363.5 44.3 365.3 39.5 366.9 36.5 367.6 35.7 371 34.2 373 33.7 375 33.4 402.7 33.3M294.7 93.8 304.8 93.7 306.9 93.1 308.2 92.4 310.2 90.4 311.6 88.3 312.4 85.4 312.7 80.6 312.4 77.1 311.6 74.9 309.9 72.3 308.9 71.4 307.5 70.4 306.2 69.8 304.2 69.4 294.7 69.4M310.9 24.4 311.9 25.1 314.2 29.9 315.6 33.3 317 37.5 318 44.3 318.8 53.9 320 61.4 320.8 62.8 321.8 63.4 323.8 64.1 326.4 64.5 337.9 64.8 348.7 64.6 353.4 64 355.2 63.4 356.4 62.8 357.5 61.8 358.2 60.7 359.6 57.3 360.3 53.9 361.3 45.6 362.6 40.9 364.9 35.8 367.6 31.4 371 30.2 375 29.5 402.7 29.5M294.7 90.2 304.2 90.2 306.2 89.6 307.5 88.7 309.1 86.7 309.9 84.7 310.3 81.9 310.1 79.2 309.4 77.1 308.1 75.1 306.2 73.6 304.2 73 294.7 73M314.6 24.4 317 31.3 317.3 32.6 318.8 43.6 319.4 50.4 319.9 54.5 320.8 58.7 321.9 61.4 323.1 62.8 324.4 63.4 325.8 63.8 330.5 64.2 337.2 64.5 345.3 64.3 350 64 352.4 63.4 354.1 62.8 355.2 62.1 356.1 61.1 357.5 58.7 358.9 54.5 359.5 51.1 360.3 43.6 360.8 40.7 361.5 38.3 362.9 35.1 364.4 32 366.5 28.5 367.6 27.2 371 26.2 375 25.7 402.7 25.6M317.2 24.4 318.3 28.7 318.7 34 320.5 52.5 321.3 56.6 322.5 60 323.4 61.4 324 62.1 325.1 62.8 326.4 63.3 331.8 63.9 339.3 64.1 346.7 63.9 350 63.4 351.9 62.8 353.4 62 354.8 60.8 355.9 59.3 357.2 56.6 358.1 53.2 359.3 43.6 361.1 34 362.2 31.1 364.9 25.8 363.9 24.4M320 24.4 319.7 28.5 319.7 32.6 321.1 49.8 322 55.2 322.6 57.3 323.4 59.3 324.9 61.4 325.8 62.1 327.1 62.7 331.9 63.4 339.3 63.8 346.3 63.4 348.7 63.2 350 62.8 351.5 62.1 353.3 60.7 354.5 59.3 355.7 57.3 356.7 54.5 357.4 51.8 358.2 44.3 359.7 34.7 360.1 29.9 360.5 28.5 360.5 27.8 359.9 26.5 358.2 24.4" fill="none" stroke="#000" stroke-opacity="0.55" stroke-width="0.45"/>
<path d="M338.6 86.8 338.1 86 338 85.4 338.6 84.4 339.3 84.2 339.9 84.7 340.2 85.4 340.1 86 339.9 86.5 339.3 87 338.6 86.8M338.6 89 337.9 88.7 337.2 88.1 336.8 87.4 336.6 86.7 336.4 85.4 336.7 84 337.2 83.1 337.9 82.5 339.3 82.1 340.5 82.6 341.1 83.3 341.7 84.7 341.8 86 341.4 87.4 340.6 88.4 339.9 88.9 338.6 89M337.9 89.9 336.6 88.8 335.8 87.4 335.6 86 335.7 84 336.4 82.6 337.2 81.6 338.6 81 339.9 81.1 341.3 81.9 342.2 83.3 342.6 85.1 342.5 86.7 342 88.3 341.3 89.2 340.6 89.7 339.3 90.1 337.9 89.9M338.6 90.9 337.2 90.4 335.9 89 335.2 87.4 334.9 85.4 335.3 83.3 336 81.9 337.2 80.8 337.9 80.4 339.3 80.2 340.6 80.6 341.3 81 342.2 81.9 343.1 84 343.3 86 342.8 88.1 342 89.5 340.6 90.6 339.9 90.8 338.6 90.9M337.9 91.5 336.6 90.8 335.9 90.2 335 88.8 334.4 86.7 334.5 84 335.2 81.9 336.6 80.4 337.9 79.7 339.9 79.6 340.8 79.9 341.8 80.6 343 81.9 343.7 84 343.8 86.7 343.2 88.8 342 90.6 341.3 91.1 339.9 91.6 337.9 91.5M337.9 92.4 336.6 91.8 335.9 91.3 334.5 89.5 334 88.1 333.8 86.7 333.8 84 334.5 81.9 335.9 80.1 336.6 79.6 337.9 78.9 339.9 78.9 341.3 79.3 342.1 79.9 342.8 80.6 343.7 81.9 344.2 83.3 344.5 84.7 344.3 87.4 344 88.8 343.3 90.1 342 91.6 339.9 92.5 337.9 92.4M337.2 93 335.2 91.7 333.8 89.5 333.1 86.7 333.2 84 333.5 82.6 334.1 81.2 335.1 79.9 335.9 79.2 337.9 78.2 339.9 78.2 341.3 78.6 342.3 79.2 343.3 80.1 344.1 81.2 344.9 83.3 345.1 84.7 344.9 88.1 344.4 89.5 343.7 90.8 342 92.5 339.9 93.3 338.6 93.3 337.2 93M337.9 94.3 336.6 93.9 335.2 93 334.4 92.2 333.4 90.8 332.5 88.1 332.3 84.7 332.7 82.6 333.3 81.2 334.8 79.2 335.9 78.3 337.2 77.7 338.6 77.4 339.9 77.4 342 78.1 343.4 79.2 344.5 80.6 345.2 81.9 345.8 84 345.8 87.4 345.1 90.1 344.4 91.5 343.3 92.8 342 93.7 340.6 94.2 339.3 94.4 337.9 94.3M338.6 95.7 337.2 95.5 335.9 94.9 334.5 94.1 333.2 92.6 332.2 90.8 331.7 89.5 331.4 87.4 331.3 85.4 331.5 83.3 331.9 81.9 332.5 80.6 333.4 79.2 334.5 78.1 335.9 77.3 337.2 76.8 339.3 76.6 340.6 76.7 342 77.1 343.3 77.9 344.8 79.2 345.7 80.6 346.5 82.6 346.9 84.7 346.9 86.7 346.6 88.8 346 90.8 345.3 92.2 344.2 93.6 343.3 94.3 342 95.1 340.6 95.5 338.6 95.7M335.9 96.3 334.5 95.6 333 94.3 332 92.9 331.2 91.2 330.6 89.5 330.4 87.4 330.4 84.7 330.7 82.6 331.4 80.6 332.2 79.2 333.2 78 334.5 76.9 335.9 76.3 337.9 75.7 339.9 75.7 341.3 75.9 343.3 76.7 344.7 77.7 346 79.2 346.8 80.6 347.5 82.6 347.8 84.7 347.8 87.4 347.4 90.1 346.7 92.1 345.8 93.6 344.7 94.8 343.3 95.8 342 96.5 339.9 97 337.9 96.9 335.9 96.3M335.9 97.7 333.9 96.7 332.5 95.5 331.2 93.8 330.4 92.2 329.7 90.1 329.4 87.4 329.4 84.7 329.8 81.9 330.6 79.9 331.4 78.5 332.7 77.1 334.5 75.9 335.9 75.3 337.9 74.9 339.9 74.9 342 75.2 344 76.1 345.5 77.1 346.8 78.5 347.9 80.6 348.5 82.6 348.9 85.4 348.8 88.1 348.3 90.8 347.5 92.9 346.7 94.4 345.3 95.9 343.8 97 342 97.8 339.9 98.2 337.9 98.2 335.9 97.7M335.9 99.1 333.2 97.7 331.8 96.6 330.5 94.9 329.2 92.2 328.5 88.8 328.4 86.7 328.5 84 329.1 80.8 329.8 79.2 331.2 77.3 332.5 76.1 333.9 75.2 335.9 74.5 337.9 74.1 339.9 74.1 342 74.4 344 75.1 346 76.3 347.5 77.8 348.7 79.9 349.4 82.4 349.7 85.4 349.7 88.1 349.4 91 348.7 93 347.4 95.4 346 97 344 98.4 342.3 99 339.9 99.4 337.9 99.4 335.9 99.1M335.9 99.9 333.9 99.1 331.8 97.7 330 95.6 328.9 93.6 328.1 90.8 327.8 88.1 328 84 328.5 80.7 329.1 78.9 330.5 76.7 331.4 75.8 333.2 74.6 335.2 73.9 337.9 73.4 340.6 73.4 342.6 73.8 344.7 74.5 346.7 75.7 348 77.1 348.9 78.5 349.8 81.2 350.3 84.7 350.3 88.8 349.9 91.5 349.3 93.6 348 95.8 346.7 97.4 344.7 98.9 342.6 99.8 340.6 100.2 337.9 100.3 335.9 99.9M339.3 101.1 336.6 100.9 334.5 100.2 332.3 99 330.5 97.4 329.1 95.6 328 92.9 327.5 90.8 327.3 88.1 327.5 84 327.8 81.2 328.5 78.9 329.8 76.5 331.2 75.1 333.2 73.8 335.9 73 338.6 72.7 342 72.9 344.7 73.6 346.2 74.4 348 76.1 349.2 77.8 350.1 80.6 350.7 83.3 350.9 87.4 350.8 90.1 350.2 92.9 349.4 95 348 97.1 346 99 344 100.1 342 100.8 339.3 101.1M337.9 101.8 335.2 101.3 332.5 100.1 330.5 98.5 328.7 96.3 327.7 94.3 327.1 92.2 326.8 88.1 327 83.3 327.6 79.9 328.5 77.5 329.6 75.8 331 74.4 333.2 73.1 335.2 72.4 337.9 72.1 341.3 72.2 343.3 72.5 344.7 72.9 346.2 73.7 348 75.2 349.4 77.1 350.5 79.9 351.2 83.3 351.4 88.1 351.3 91.5 350.5 94.3 349.5 96.3 348 98.2 346.7 99.4 344.7 100.7 342.6 101.4 340.6 101.8 337.9 101.8M337.2 102.6 333.9 101.7 331.5 100.4 329.2 98.4 327.8 96.2 326.8 93.6 326.4 90.8 326.4 86.7 326.7 81.9 327.3 79.2 328.4 76.5 329.4 75.1 331.2 73.6 333.5 72.3 336.1 71.7 339.3 71.5 342 71.6 344.7 72.3 347.3 73.7 348.7 75 350 77.1 351.1 79.9 351.7 83.3 352 88.1 351.8 92.2 351 94.9 350 97 348.3 99 346.7 100.4 344.7 101.5 342.6 102.2 339.9 102.7 337.2 102.6M336.6 103.3 333.9 102.6 331 101.1 328.8 99 327 96.3 326.3 94.3 325.8 90.1 325.9 84.7 326.3 81.2 327 78.5 328.1 75.8 329.2 74.4 331.2 72.9 333.9 71.7 336.6 71.1 339.9 71 342.6 71.3 345.3 72 348 73.5 349.4 74.9 350.6 77.1 351.8 80.6 352.3 84 352.5 89.5 352.2 93.6 351.4 95.9 350 98.3 348.7 99.8 346.7 101.4 344.7 102.4 342 103.2 339.3 103.5 336.6 103.3M335.2 103.8 332.5 102.9 329.7 101.1 327.7 99 326.1 96.3 325.5 92.9 325.3 88.1 325.6 82.6 326.4 78.5 327.5 75.8 328.5 74.2 330.5 72.6 332.3 71.7 335.2 70.8 338.6 70.5 342 70.7 344.7 71.2 347.3 72.3 349.1 73.7 350.6 75.8 351.8 78.5 352.5 81.2 352.9 84.7 353.1 90.1 352.7 94.4 351.8 97 350.5 99 348.7 101 346.5 102.5 344 103.6 341.3 104.2 337.9 104.3 335.2 103.8M334.5 104.5 331.8 103.5 329.1 101.8 327.1 99.6 325.6 97 324.9 92.9 324.8 88.1 325.1 81.9 326.1 77.8 327.1 75.2 328.1 73.7 329.8 72.3 332.5 71 335.9 70.3 339.3 70.1 342.6 70.3 345.5 71 348 72.1 349.4 73.1 351.2 75.8 352.4 78.5 353.2 82.6 353.6 88.1 353.6 92.2 353.2 95.6 351.9 98.4 350.5 100.4 348.7 102.1 346 103.7 343.3 104.6 340.6 105.1 337.2 105 334.5 104.5M337.2 106 333.2 105.1 329.8 103.5 328.5 102.5 327.1 101.1 325.2 98.4 324.6 95.6 324.2 90.8 324.4 84 324.8 80.6 325.7 77.1 326.9 74.4 327.8 73 329.8 71.6 332.5 70.5 335.9 69.8 339.9 69.6 344 70.1 347.1 71 348.7 71.8 349.4 72.3 351.1 74.4 352.5 77.1 353.5 80.6 353.9 84 354.3 90.8 354 95.6 353 98.4 351.7 100.4 350 102.2 348 103.7 345.3 105 342.6 105.7 339.9 106 337.2 106M334.9 106.6 331.8 105.6 329.1 104.2 327 102.5 324.9 99.7 324.1 97 323.7 92.9 323.7 88.8 324.1 81.9 324.7 78.5 325.3 76.5 326.6 73.7 327.8 72.1 329.8 70.9 332.5 69.9 335.9 69.4 339.3 69.2 342.6 69.4 346 70 348.7 71 350 72.1 351.8 74.4 353.1 77.1 353.9 79.9 354.4 83.3 354.9 90.1 354.9 94.3 354.6 97 353.7 99 351.9 101.8 349.6 103.8 346.7 105.5 343.3 106.6M331.6 106.6 328.7 105.2 326.9 103.8 325 101.8 323.9 99.7 323.2 95.6 323 91.5 323.4 83.3 324 79.2 324.7 76.5 325.5 74.4 326.7 72.3 327.8 71.3 329.8 70.2 332.5 69.4 335.9 68.9 339.3 68.8 342.6 68.9 345.3 69.3 348 70.1 349.6 71 351.1 72.3 352.6 74.4 353.8 77.1 354.6 79.9 355.1 83.3 355.6 90.8 355.6 94.3 355.3 97.7 354.1 100.4 352.1 103.1 349.5 105.2 346.6 106.6M329.2 106.6 326.4 104.9 324.7 103.2 323.4 101.1 322.9 99 322.4 94.9 322.4 90.1 322.9 81.9 323.8 77.1 324.5 75.1 325.4 73 327 71 327.8 70.4 329.7 69.6 332.5 68.9 335.9 68.5 339.3 68.4 342.6 68.5 345.8 68.9 348.5 69.6 349.8 70.3 351.4 71.7 353 73.7 354 75.8 354.9 78.5 355.6 82.6 356.3 90.8 356.3 95.6 355.9 99 354.6 101.8 352.9 103.8 350.7 105.7 349.1 106.6M326 106.6 324.2 105.2 322.5 103.2 321.9 98.4 321.7 92.2 322.2 83.3 322.7 79.2 323.7 75.2 325.1 72.3 326 71 327.1 69.9 329.1 69.1 332.5 68.4 335.9 68.1 339.3 68 342.6 68.1 346 68.5 348.7 69 349.9 69.6 351.8 71 353 72.3 354.1 74.3 355 76.5 355.9 79.9 356.3 83.3 357.1 92.9 357.3 99.7 356.5 101.8 355.2 103.8 354 105.2 352.2 106.6M323.3 106.6 321.7 105.2 321.3 104.5 321 101.8 320.8 97.7 321.8 81.2 322.3 77.8 323.5 73.7 325 71 326.3 69.6 327.1 69.1 329.8 68.4 332.5 68 339.3 67.6 346 68 348.7 68.4 350 68.9 351.4 69.7 352.8 71 354.3 73 355.3 75.1 355.8 76.5 356.6 79.9 358.4 95.6 358.7 100.4 358.5 101.8 357.5 103.8 356.5 105.2 354.9 106.6M323.3 24.4 321.7 25.8 321.3 26.5 321 29.2 320.8 33.3 321.8 49.8 322.3 53.2 323.5 57.3 325 60 326.3 61.4 327.1 61.9 329.8 62.6 332.5 63 339.3 63.4 346 63 348.7 62.6 350 62.1 351.4 61.3 352.8 60 354.3 58 355.3 55.9 355.8 54.5 356.6 51.1 358.4 35.4 358.7 30.6 358.5 29.2 357.5 27.2 356.5 25.8 354.9 24.4M326 24.4 324.2 25.8 322.5 27.8 321.9 32.6 321.7 38.8 322.2 47.7 322.7 51.8 323.7 55.8 325.1 58.7 326 60 327.1 61.1 329.1 61.9 332.5 62.6 335.9 62.9 339.3 63 342.6 62.9 346 62.5 348.7 62 349.9 61.4 351.8 60 353 58.7 354.1 56.7 355 54.5 355.9 51.1 356.3 47.7 357.1 38.1 357.3 31.3 356.5 29.2 355.2 27.2 354 25.8 352.2 24.4M329.2 24.4 326.4 26.1 324.7 27.8 323.4 29.9 322.9 32 322.4 36.1 322.4 40.9 322.9 49.1 323.8 53.9 324.5 55.9 325.4 58 327 60 327.8 60.6 329.7 61.4 332.5 62.1 335.9 62.5 339.3 62.6 342.6 62.5 345.8 62.1 348.5 61.4 349.8 60.7 351.4 59.3 353 57.3 354 55.2 354.9 52.5 355.6 48.4 356.3 40.2 356.3 35.4 355.9 32 354.6 29.2 352.9 27.2 350.7 25.3 349.1 24.4M331.6 24.4 328.7 25.8 326.9 27.2 325 29.2 323.9 31.3 323.2 35.4 323 39.5 323.4 47.7 324 51.8 324.7 54.5 325.5 56.6 326.7 58.7 327.8 59.7 329.8 60.8 332.5 61.6 335.9 62.1 339.3 62.2 342.6 62.1 345.3 61.7 348 60.9 349.6 60 351.1 58.7 352.6 56.6 353.8 53.9 354.6 51.1 355.1 47.7 355.6 40.2 355.6 36.7 355.3 33.3 354.1 30.6 352.1 27.9 349.5 25.8 346.6 24.4M334.9 24.4 331.8 25.4 329.1 26.8 327 28.5 324.9 31.3 324.1 34 323.7 38.1 323.7 42.2 324.1 49.1 324.7 52.5 325.3 54.5 326.6 57.3 327.8 58.9 329.8 60.1 332.5 61.1 335.9 61.6 339.3 61.8 342.6 61.6 346 61 348.7 60 350 58.9 351.8 56.6 353.1 53.9 353.9 51.1 354.4 47.7 354.9 40.9 354.9 36.7 354.6 34 353.7 32 351.9 29.2 349.6 27.2 346.7 25.5 343.3 24.4M333.2 60.7 336.6 61.3 339.9 61.4 343.3 61.1 346.7 60.2 348.7 59.2 350.1 58 351.5 55.9 352.7 53.2 353.6 49.8 354 46.3 354.2 39.5 353.8 34.7 352.6 32 350.5 29.2 348 27.3 344.7 25.8 342 25.2 338.6 25 335.2 25.4 332.5 26.2 329.8 27.5 327.8 29.2 326 31.3 325.1 33.1 324.4 37.4 324.2 42.2 324.5 48.4 325.5 53.2 326.5 55.9 327.8 58 329.8 59.4 333.2 60.7M335.6 60.7 339.3 60.9 342.6 60.7 345.5 60 348 58.9 349.4 57.9 350.9 55.9 352.1 53.2 352.9 50.4 353.4 47 353.7 40.2 353.3 36.1 352.6 34 351 31.3 348.7 28.9 346 27.3 342.6 26.2 339.3 25.9 336.6 26.1 333.9 26.7 331.2 27.8 329.1 29.2 327.2 31.3 325.8 33.6 325.3 35.4 324.8 40.2 324.9 47 325.5 51.1 326.5 54.5 327.8 56.9 329.7 58.7 332.5 60 335.6 60.7M334.6 60 337.9 60.5 341.3 60.4 344 59.9 346.7 59 348.7 57.7 349.7 56.6 351 54.5 352.1 51.5 352.8 47.7 353.1 42.2 352.9 37.4 352.4 35.4 350.7 32.3 348.7 30 346 28.2 343.3 27.2 340.6 26.8 337.9 26.7 335.2 27.2 332.5 28.1 330.5 29.3 328.5 31 326.8 33.3 325.9 35.4 325.4 39.5 325.3 44.3 325.7 49.1 326.6 53.2 327.8 55.8 329.1 57.4 331.8 59.1 334.6 60M338 60 341.3 59.9 344 59.4 346.7 58.3 348.7 56.9 350 55 351.2 52.5 351.9 49.8 352.4 46.3 352.5 41.5 352.3 38.1 351.5 35.4 350.5 33.3 348.7 31.2 346 29.2 343.3 28.1 339.9 27.5 337.2 27.6 334.5 28.2 331.8 29.4 329.8 30.9 328.2 32.6 326.7 35.4 326.2 37.4 325.9 40.2 325.8 44.3 326.2 49.1 327 52.5 328.1 55.2 329.8 57.2 332.1 58.7 334.5 59.5 338 60M336.1 59.3 339.3 59.5 342.1 59.3 344.7 58.7 347.3 57.3 348.7 56 350 53.9 350.8 51.8 351.5 49.1 351.9 44.3 351.9 40.2 351.7 38.1 350.7 35.4 349.4 33.2 347.4 31.1 344.7 29.5 342 28.6 339.3 28.3 336.6 28.6 333.9 29.3 331.8 30.4 329.9 32 328.5 33.7 327.2 36.1 326.7 38.1 326.3 42.2 326.5 47.7 327.1 51.1 328 53.9 329.4 55.9 331.2 57.4 333.5 58.7 336.1 59.3M335.6 58.7 338.6 58.9 341.3 58.8 343.3 58.5 346 57.4 347.9 55.9 349 54.5 350 52.5 350.8 49.8 351.3 46.3 351.4 40.9 351.1 38.8 350.2 36.1 348.7 33.6 346.7 31.6 344.7 30.3 342 29.4 339.9 29.1 337.2 29.2 334.5 29.9 332.5 30.9 330.5 32.5 329.2 34 328 36.1 327.3 38.1 326.8 42.2 327 47 327.5 50.4 328.3 53.2 329.6 55.2 331.2 56.7 333.3 58 335.6 58.7M335.6 58 338.6 58.3 341.3 58.2 344 57.6 346 56.7 347.4 55.6 348.7 54 349.7 51.8 350.3 49.8 350.8 46.3 350.9 41.5 350.6 39.5 349.7 36.7 348.6 34.7 346.7 32.6 344.7 31.2 342 30.2 339.9 29.9 337.2 30 335.2 30.5 333.2 31.4 331.4 32.6 329.8 34.4 328.5 36.7 327.8 38.8 327.4 41.5 327.4 46.3 327.7 49.1 328.5 52.1 329.4 53.9 331.2 55.9 333.2 57.2 335.6 58M335.8 57.3 337.9 57.6 340.6 57.6 343.3 57 345.3 56.2 346.7 55.3 348.1 53.9 348.9 52.5 349.8 49.8 350.2 47 350.4 42.9 350.1 40.2 349.3 37.4 348 35.2 346 33 344 31.7 341.3 30.9 338.6 30.7 336.6 30.9 334.5 31.6 332.5 32.8 331.1 34 329.6 36.1 328.7 38.1 328.1 40.2 327.8 42.9 328 47 328.3 49.8 329.1 52.1 330.2 53.9 331.4 55.2 333.7 56.6 335.8 57.3M336.2 56.6 338.6 56.9 340.6 56.8 342.6 56.4 344.7 55.6 346.2 54.5 347.5 53.2 348.7 51.1 349.3 49.1 349.7 46.3 349.7 42.9 349.4 40.2 348.7 38 347.4 35.6 346 34 344 32.6 342 31.9 339.9 31.6 337.9 31.6 335.9 31.9 334.3 32.6 333.1 33.3 331.2 35.2 330.5 36.1 329.1 38.9 328.5 42.2 328.4 45 328.6 47.7 329.2 50.4 330.2 52.5 332 54.5 333.9 55.8 336.2 56.6M336.8 55.9 339.3 56.2 341.3 55.9 343.3 55.3 344.7 54.5 346.2 53.2 347.2 51.8 348.2 49.8 348.7 47.7 348.9 45 348.7 42.2 348.1 39.5 347.4 37.7 346.2 36.1 344.7 34.5 342.6 33.4 340.6 32.8 338.6 32.7 336.6 33.1 334.5 33.9 333.4 34.7 332 36.1 331 37.4 330.1 39.5 329.6 41.5 329.3 44.3 329.4 47 329.8 49.1 330.6 51.1 331.8 53 333.2 54.3 334.8 55.2 336.8 55.9M337.8 55.2 339.3 55.3 341.3 55.1 343.3 54.3 344.7 53.3 346 51.8 346.8 50.4 347.3 49.1 347.8 47 347.9 44.3 347.7 42.2 347.2 40.2 346.2 38.1 344.7 36.2 343.3 35.2 342 34.5 339.9 34 337.9 34.1 336.6 34.4 335.2 35 333.7 36.1 332.5 37.3 331.6 38.8 330.8 40.9 330.4 42.9 330.3 45.6 330.5 47.7 331.1 49.8 331.7 51.1 332.7 52.5 334.2 53.9 335.9 54.7 337.8 55.2M336.2 53.9 337.9 54.3 339.3 54.4 341.3 54.1 342.6 53.6 344.1 52.5 345.3 51.1 346 49.8 346.5 48.4 346.9 46.3 346.9 44.3 346.6 42.2 346 40.1 345.3 38.8 344 37.2 342.6 36.2 340.6 35.5 339.3 35.3 337.9 35.4 336.6 35.8 335.2 36.4 334 37.4 333.2 38.4 332.2 40.2 331.7 41.5 331.4 43.6 331.3 45.6 331.5 47.7 331.9 49.1 332.5 50.4 333.4 51.8 334.5 52.9 336.2 53.9M336.9 53.2 337.9 53.5 339.3 53.6 340.6 53.4 342 52.9 343.4 51.8 344.5 50.4 345.2 49.1 345.7 47.7 345.9 46.3 345.9 44.3 345.6 42.2 345.1 40.9 344.4 39.5 343.3 38.2 342 37.3 340.6 36.8 339.3 36.6 337.9 36.7 336.6 37.1 335.2 38 334.4 38.8 333.4 40.2 332.5 42.8 332.3 44.3 332.3 46.3 333 49.1 333.7 50.4 334.8 51.8 335.9 52.7 336.9 53.2M337.1 52.5 339.3 52.9 340.6 52.7 342 52.1 343.6 50.4 344.4 49.1 344.9 47.7 345.1 46.3 345.1 44.3 344.9 42.9 344.4 41.5 343.7 40.2 342.6 39 340.6 37.9 339.3 37.7 337.9 37.8 335.9 38.8 334.5 40.2 333.8 41.5 333.4 42.9 333.1 45 333.1 46.3 333.8 49.1 335.2 51.2 337.1 52.5M337.2 51.8 338.6 52.2 339.9 52.1 341 51.8 342 51.2 343.3 49.8 344 48.4 344.4 47 344.4 44.3 344.2 42.9 343.7 41.5 342.7 40.2 342 39.4 339.9 38.5 337.9 38.6 336.6 39.2 335.9 39.7 334.5 41.5 333.9 43.6 333.7 46.3 334.2 48.4 335.4 50.4 337.2 51.8M337.4 51.1 339.3 51.5 340.6 51.2 341.3 50.9 342 50.3 343 49.1 343.7 47 343.8 44.3 343.2 42.2 342 40.4 341.3 39.9 339.9 39.4 337.9 39.5 336.6 40.2 335.3 41.5 334.5 43.6 334.4 46.3 334.9 48.4 335.9 50 337.4 51.1M337.7 50.4 339.3 50.8 340.6 50.4 341.3 50 342.6 48.4 343.1 47 343.3 45 343 43.6 342.6 42.5 342 41.5 341.3 40.9 339.9 40.2 338.6 40.1 337.2 40.6 335.9 42 335.2 43.6 334.9 45.6 335.3 47.7 335.9 48.9 336.6 49.7 337.7 50.4M337.9 49.8 339.3 50 340.6 49.6 341.3 49.1 342 48.2 342.4 47 342.6 45 342.1 42.9 341.3 41.8 339.9 41 338.6 40.9 337.2 41.5 336.1 42.9 335.7 44.3 335.6 45.6 335.9 47.4 336.6 48.7 337.9 49.8M337.7 48.4 338.6 48.8 339.9 48.7 340.6 48.3 341.5 47 341.8 45.6 341.6 44.3 340.9 42.9 339.9 42.1 338.6 42 337.9 42.3 337.2 42.9 336.6 44.3 336.4 45.6 336.6 46.6 337.1 47.7 337.7 48.4M338.3 46.3 338.6 46.6 339.3 46.8 339.9 46.3 340.2 45.6 340.1 45 339.9 44.5 339.3 44 338.6 44.2 338.1 45 338 45.6 338.3 46.3" fill="none" stroke="#000" stroke-opacity="0.32" stroke-width="0.40"/>
<path d="M296.3 104.6H401.1" stroke="#140a60" stroke-width="0.8" stroke-opacity="0.8"/>
</g>
<g mask="url(#cpd)">
<rect x="18.9" y="134.2" width="108.8" height="83" fill="#4262f2"/>
<path d="M19.3 216.8 36.1 216.8 37.5 213.3 40.6 197.6 42 192.1 42.9 189.5 45 186.5 46.3 185.2 48.3 184.6 53.7 183.9 76 183.9 79.5 184.6 85.4 186.7 89.5 188.7 90.8 189.7 92.2 191 93.5 192.8 94.9 195.2 96.9 201 99.6 206.2 101.7 208.6 107 212.6 108.4 213 127.3 213 127.3 134.6 19.3 134.6 19.3 216.8Z" fill="#2c84f0"/>
<path d="M19.3 209.2 19.3 209.4 20 209.4 23.4 209.3 28.8 208.8 32.1 207.3 34.2 205.8 35.3 204.5 35.9 203.1 37.5 198.3 39.6 190.6 40.3 188.7 41.6 186.2 42.9 184.5 45 182.7 46.3 182 48.3 181.9 77.3 181.9 84.8 182.7 90.8 183.9 92.2 184.6 94.2 186.6 96.9 188.9 98 190.8 100.3 196.4 102.3 199.7 104.3 202.3 107 204.3 109.7 205.4 113.1 206.2 120.5 206.8 127.3 207 127.3 134.6 19.3 134.6 19.3 209.2Z" fill="#22a0e4"/>
<path d="M19.3 204.5 19.3 204.6 22 204.7 26.7 204.1 28.8 203.6 30.5 202.4 32.8 200 34.8 196.7 35.5 195 37.5 188.3 39.3 185.3 41 183.2 42.4 181.9 45.5 179.8 47 179.4 54.4 179.9 86.1 179.9 94.2 181.3 99.6 183.9 101 184.8 104.3 188.9 105.7 190.3 109.7 193.6 112.4 195.5 117.5 197.6 121.2 198.8 124.6 199.4 127.3 199.3 127.3 134.6 19.3 134.6 19.3 204.5Z" fill="#16b6d4"/>
<path d="M19.3 198.3 22 198.4 24.7 198.1 28.1 197.5 29.1 196.9 30.1 195.9 32.1 193.1 34.8 185.7 36.9 182.5 38.9 180.6 40.2 179.8 46.3 177.9 75.3 177.9 85.4 177.4 89.5 177.7 102.4 179.8 116.5 183.7 122.5 184.9 127.3 185.6 127.3 134.6 19.3 134.6 19.3 198.3Z" fill="#16b6d4"/>
<path d="M19.3 175 19.3 175.7 127.3 175.7 127.3 134.6 19.3 134.6 19.3 175Z" fill="#2ec0a0"/>
<path d="M78.9 173.6 86.8 173.9 94.7 173 102.4 171.6 113.1 168.5 118.5 167.3 127.3 165.8 127.3 134.6 19.3 134.6 19.3 153.1 22.7 153.1 25.4 153.4 28.1 153.9 29.4 154.8 30.8 156.3 32.1 158.3 34.5 164.7 35.5 166.9 37.5 169.5 39.6 171.3 40.9 171.9 45 173.1 47 173.5 75.3 173.5 78.9 173.6Z" fill="#2ec0a0"/>
<path d="M45.5 171.6 47 172 54.4 171.5 86.1 171.5 94.9 169.8 96.9 168.7 99.6 167.5 101 166.6 104.3 162.5 105.7 161.1 109.7 157.8 112.4 155.9 117.5 153.8 121.2 152.6 124.6 152 127.3 152.1 127.3 134.6 19.3 134.6 19.3 146.8 23.4 146.8 28.1 147.5 29.4 148.2 30.8 149.3 33.1 151.7 34.8 154.7 35.5 156.4 37.4 162.7 38.8 165.4 41.6 168.9 43.3 170.2 45.5 171.6Z" fill="#2ec0a0"/>
<path d="M48.6 169.5 77.3 169.5 85.4 168.6 91.5 167.2 96.9 162.5 98 160.6 100.3 155 101.6 152.7 103.8 149.7 106.4 147.5 108.9 146.3 112.4 145.3 120.5 144.6 127.3 144.4 127.3 134.6 19.3 134.6 19.3 142 24.1 142.1 28.8 142.6 32.1 144.1 34.2 145.6 35.3 146.9 35.9 148.3 37.5 153.1 39.6 160.8 40.3 162.7 41.6 165.2 42.9 166.9 45.2 168.9 46.3 169.4 48.6 169.5Z" fill="#58d47a"/>
<path d="M54.1 167.5 76 167.5 80 166.6 86.8 164.2 90.5 162 91.5 161.1 92.9 159.6 94.9 156.2 96.9 150.4 99.6 145.2 101.6 142.9 106.4 139.3 107.7 138.5 108.4 138.4 127.3 138.4 127.3 134.6 36.1 134.6 37.5 138.1 40.6 153.8 42 159.3 42.9 161.9 45 164.9 46.3 166.2 48.3 166.8 54.1 167.5Z" fill="#bac632"/>
<path d="M36.1 216.8 37.5 213.3 40.6 197.6 42 192.1 42.9 189.5 45 186.5 46.3 185.2 48.3 184.6 53.7 183.9 76 183.9 79.5 184.6 85.4 186.7 89.5 188.7 90.8 189.7 92.2 191 93.5 192.8 94.9 195.2 96.9 201 99.6 206.2 101.7 208.6 107 212.6 108.4 213 127.3 213M19.3 209.4 24.1 209.3 28.8 208.8 32.1 207.3 34.2 205.8 35.5 204 36.2 202.4 37.5 198.3 39.6 190.6 41 187.3 42.3 185.2 44.3 183.2 46.3 182 47.7 181.9 77.3 181.9 84.8 182.7 90.8 183.9 92.2 184.6 94.2 186.6 96.9 188.9 98 190.8 100.3 196.4 102.3 199.7 104.3 202.3 107 204.3 109.7 205.4 113.1 206.2 120.5 206.8 127.3 207M19.3 204.6 23.4 204.6 27.4 204 28.8 203.6 30.5 202.4 32.8 200 34.8 196.7 35.5 195 37.5 188.3 39.3 185.3 41 183.2 42.4 181.9 45.5 179.8 47 179.4 54.4 179.9 86.1 179.9 94.2 181.3 99.6 183.9 101 184.8 104.3 188.9 105.7 190.3 109.7 193.6 112.4 195.5 117.5 197.6 121.2 198.8 124.6 199.4 127.3 199.3M19.3 198.3 22 198.4 24.7 198.1 28.1 197.5 29.1 196.9 30.1 195.9 32.1 193.1 34.8 185.7 36.9 182.5 38.9 180.6 40.2 179.8 46.3 177.9 75.3 177.9 85.4 177.4 89.5 177.7 102.4 179.8 116.5 183.7 122.5 184.9 127.3 185.6M19.3 175.7 127.3 175.7M19.3 153.1 22 153 24.7 153.3 28.1 153.9 29.1 154.5 30.1 155.5 32.1 158.3 34.8 165.7 36.9 168.9 38.9 170.8 40.2 171.6 46.3 173.5 75.3 173.5 85.4 174 89.5 173.7 102.4 171.6 116.5 167.7 122.5 166.5 127.3 165.8M19.3 146.8 23.4 146.8 27.4 147.4 28.8 147.8 30.5 149 32.8 151.4 34.8 154.7 35.5 156.4 37.5 163.1 39.3 166.1 41 168.2 42.4 169.5 45.5 171.6 47 172 54.4 171.5 86.1 171.5 94.2 170.1 99.6 167.5 101 166.6 104.3 162.5 105.7 161.1 109.7 157.8 112.4 155.9 117.5 153.8 121.2 152.6 124.6 152 127.3 152.1M19.3 142 24.1 142.1 28.8 142.6 32.1 144.1 34.2 145.6 35.5 147.4 36.2 149 37.5 153.1 39.6 160.8 41 164.1 42.3 166.2 44.3 168.2 46.3 169.4 47.7 169.5 77.3 169.5 84.8 168.7 90.8 167.5 92.2 166.8 94.2 164.8 96.9 162.5 98 160.6 100.3 155 102.3 151.7 104.3 149.1 107 147.1 109.7 146 113.1 145.2 120.5 144.6 127.3 144.4M36.1 134.6 37.5 138.1 40.6 153.8 42 159.3 42.9 161.9 45 164.9 46.3 166.2 48.3 166.8 53.7 167.5 76 167.5 79.5 166.8 85.4 164.7 89.5 162.7 90.8 161.7 92.2 160.4 93.5 158.6 94.9 156.2 96.9 150.4 99.6 145.2 101.7 142.8 107 138.8 108.4 138.4 127.3 138.4" fill="none" stroke="#000" stroke-opacity="0.50" stroke-width="0.50"/>
<path d="M20.9 158.6 C23 158.8 24.8 160.5 25 164 C25.2 170 25.6 174.4 29 175.7 L20.9 175.7Z" fill="#16b6d4" stroke="#000" stroke-opacity="0.5" stroke-width="0.5"/>
<path d="M20.9 175.7 L29 175.7 C25.6 177 25.2 181 25 187 C24.8 190.7 23 192.4 20.9 192.6Z" fill="#2ec0a0" stroke="#000" stroke-opacity="0.5" stroke-width="0.5"/>
<path d="M86.5 153.2 86.3 155.9 85.6 158 84.5 159.9 83 161.6 81 163.1 78.7 164.3 76.1 165.3 73.1 166 69.7 166.5 65.5 166.6 61.3 166.5 57.9 166 54.9 165.3 52.3 164.3 50 163.1 48 161.6 46.5 159.9 45.4 158 44.7 155.9 44.5 153.2 44.7 150.4 45.4 148.2 46.5 146.2 48 144.4 50 142.8 52.3 141.6 54.9 140.5 57.9 139.8 61.3 139.4 65.5 139.2 69.7 139.4 73.1 139.8 76.1 140.5 78.7 141.6 81 142.8 83 144.4 84.5 146.2 85.6 148.2 86.3 150.4Z" fill="#f6ba34" stroke="#000" stroke-opacity="0.5" stroke-width="0.5"/>
<path d="M82.6 153.2 82.4 155.3 81.8 157.1 80.9 158.8 79.5 160.3 77.9 161.6 75.9 162.7 73.7 163.6 71.2 164.3 68.5 164.7 65.5 164.8 62.5 164.7 59.8 164.3 57.3 163.6 55.1 162.7 53.1 161.6 51.5 160.3 50.1 158.8 49.2 157.1 48.6 155.3 48.4 153.2 48.6 151.1 49.2 149.2 50.1 147.5 51.5 146 53.1 144.7 55.1 143.5 57.3 142.6 59.8 141.9 62.5 141.5 65.5 141.4 68.5 141.5 71.2 141.9 73.7 142.6 75.9 143.5 77.9 144.7 79.5 146 80.9 147.5 81.8 149.2 82.4 151.1Z" fill="#f7c92a" stroke="#000" stroke-opacity="0.5" stroke-width="0.5"/>
<path d="M79.8 153.2 79.6 154.9 79.1 156.5 78.3 158 77.1 159.3 75.7 160.5 74 161.6 72.1 162.4 70 163 67.8 163.4 65.5 163.5 63.2 163.4 61 163 58.9 162.4 57 161.6 55.3 160.5 53.9 159.3 52.7 158 51.9 156.5 51.4 154.9 51.2 153.2 51.4 151.5 51.9 149.9 52.7 148.4 53.9 147.1 55.3 145.9 57 144.8 58.9 144 61 143.4 63.2 143 65.5 142.9 67.8 143 70 143.4 72.1 144 74 144.8 75.7 145.9 77.1 147.1 78.3 148.4 79.1 149.9 79.6 151.5Z" fill="#f8d820" stroke="#000" stroke-opacity="0.5" stroke-width="0.5"/>
<path d="M76.7 153.2 76.6 154.5 76.2 155.7 75.5 156.8 74.6 157.9 73.4 158.9 72.1 159.7 70.6 160.3 69 160.8 67.3 161.1 65.5 161.2 63.8 161.1 62.1 160.8 60.6 160.3 59.1 159.7 57.8 158.9 56.7 157.9 55.8 156.8 55.1 155.7 54.7 154.5 54.6 153.2 54.7 151.9 55.1 150.7 55.8 149.6 56.7 148.5 57.8 147.5 59.1 146.7 60.6 146.1 62.1 145.6 63.8 145.3 65.5 145.2 67.3 145.3 69 145.6 70.6 146.1 72.1 146.7 73.4 147.5 74.6 148.5 75.5 149.6 76.2 150.7 76.6 151.9Z" fill="#f5f80c" stroke="#000" stroke-opacity="0.5" stroke-width="0.5"/>
<path d="M69.3 153.2 69.3 153.6 69.1 154 68.9 154.4 68.6 154.7 68.2 155 67.7 155.3 67.2 155.5 66.7 155.7 66.1 155.8 65.5 155.8 64.9 155.8 64.3 155.7 63.8 155.5 63.3 155.3 62.8 155 62.4 154.7 62.1 154.4 61.9 154 61.7 153.6 61.7 153.2 61.7 152.8 61.9 152.4 62.1 152 62.4 151.7 62.8 151.4 63.3 151.1 63.8 150.9 64.3 150.7 64.9 150.6 65.5 150.6 66.1 150.6 66.7 150.7 67.2 150.9 67.7 151.1 68.2 151.4 68.6 151.7 68.9 152 69.1 152.4 69.3 152.8Z" fill="#f5f80c" stroke="#000" stroke-opacity="0.5" stroke-width="0.5"/>
<path d="M86.5 198.2 86.3 201 85.6 203.2 84.5 205.2 83 207 81 208.6 78.7 209.8 76.1 210.9 73.1 211.6 69.7 212 65.5 212.2 61.3 212 57.9 211.6 54.9 210.9 52.3 209.8 50 208.6 48 207 46.5 205.2 45.4 203.2 44.7 201 44.5 198.2 44.7 195.5 45.4 193.4 46.5 191.5 48 189.8 50 188.3 52.3 187.1 54.9 186.1 57.9 185.4 61.3 184.9 65.5 184.8 69.7 184.9 73.1 185.4 76.1 186.1 78.7 187.1 81 188.3 83 189.8 84.5 191.5 85.6 193.4 86.3 195.5Z" fill="#4262f2" stroke="#000" stroke-opacity="0.5" stroke-width="0.5"/>
<path d="M82.6 198.2 82.4 200.3 81.8 202.2 80.9 203.9 79.5 205.4 77.9 206.7 75.9 207.9 73.7 208.8 71.2 209.5 68.5 209.9 65.5 210 62.5 209.9 59.8 209.5 57.3 208.8 55.1 207.9 53.1 206.7 51.5 205.4 50.1 203.9 49.2 202.2 48.6 200.3 48.4 198.2 48.6 196.1 49.2 194.3 50.1 192.6 51.5 191.1 53.1 189.8 55.1 188.7 57.3 187.8 59.8 187.1 62.5 186.7 65.5 186.6 68.5 186.7 71.2 187.1 73.7 187.8 75.9 188.7 77.9 189.8 79.5 191.1 80.9 192.6 81.8 194.3 82.4 196.1Z" fill="#4840ec" stroke="#000" stroke-opacity="0.5" stroke-width="0.5"/>
<path d="M79.8 198.2 79.6 199.9 79.1 201.5 78.3 203 77.1 204.3 75.7 205.5 74 206.6 72.1 207.4 70 208 67.8 208.4 65.5 208.5 63.2 208.4 61 208 58.9 207.4 57 206.6 55.3 205.5 53.9 204.3 52.7 203 51.9 201.5 51.4 199.9 51.2 198.2 51.4 196.5 51.9 194.9 52.7 193.4 53.9 192.1 55.3 190.9 57 189.8 58.9 189 61 188.4 63.2 188 65.5 187.9 67.8 188 70 188.4 72.1 189 74 189.8 75.7 190.9 77.1 192.1 78.3 193.4 79.1 194.9 79.6 196.5Z" fill="#3c28b6" stroke="#000" stroke-opacity="0.5" stroke-width="0.5"/>
<path d="M76.7 198.2 76.6 199.5 76.2 200.7 75.5 201.8 74.6 202.9 73.4 203.9 72.1 204.7 70.6 205.3 69 205.8 67.3 206.1 65.5 206.2 63.8 206.1 62.1 205.8 60.6 205.3 59.1 204.7 57.8 203.9 56.7 202.9 55.8 201.8 55.1 200.7 54.7 199.5 54.6 198.2 54.7 196.9 55.1 195.7 55.8 194.6 56.7 193.5 57.8 192.5 59.1 191.7 60.6 191.1 62.1 190.6 63.8 190.3 65.5 190.2 67.3 190.3 69 190.6 70.6 191.1 72.1 191.7 73.4 192.5 74.6 193.5 75.5 194.6 76.2 195.7 76.6 196.9Z" fill="#3c28b6" stroke="#000" stroke-opacity="0.5" stroke-width="0.5"/>
<path d="M69.3 198.2 69.3 198.6 69.1 199 68.9 199.4 68.6 199.7 68.2 200 67.7 200.3 67.2 200.5 66.7 200.7 66.1 200.8 65.5 200.8 64.9 200.8 64.3 200.7 63.8 200.5 63.3 200.3 62.8 200 62.4 199.7 62.1 199.4 61.9 199 61.7 198.6 61.7 198.2 61.7 197.8 61.9 197.4 62.1 197 62.4 196.7 62.8 196.4 63.3 196.1 63.8 195.9 64.3 195.7 64.9 195.6 65.5 195.6 66.1 195.6 66.7 195.7 67.2 195.9 67.7 196.1 68.2 196.4 68.6 196.7 68.9 197 69.1 197.4 69.3 197.8Z" fill="#3c28b6" stroke="#000" stroke-opacity="0.5" stroke-width="0.5"/>
<path d="M20.9 214.8H125.7" stroke="#140a60" stroke-width="0.8" stroke-opacity="0.8"/>
</g>
<g mask="url(#cpe)">
<rect x="156.6" y="134.2" width="108.8" height="83" fill="#3c28b6"/>
<path d="M157 216.8 178.8 216.8 180 215.5 181.3 202.3 182 200.1 183.3 197.6 184 196.9 186.7 195 189.8 192.1 191.4 190.9 194.9 189.4 198.9 188 201.6 187.4 203.6 187.2 211 187.4 219.5 188.7 221.9 189.4 227.2 192.2 234.6 198.1 240.7 202.3 244.1 204.1 247.4 205.3 253.5 206.9 259.6 208.2 265 209.1 265 134.6 157 134.6 157 216.8Z" fill="#4840ec"/>
<path d="M157 207.2 157 207.8 159.7 207.1 162.4 205.8 165.1 204 168.5 200.7 171.2 197.1 173.9 193.8 175.2 192.5 176.8 191.4 181.5 189.4 186.7 188.2 192.1 185.5 198.9 183.5 201.6 183 204.3 182.7 210.3 182.9 218.4 183.6 221.8 184.1 226 185.3 229.3 186.7 247.3 195.6 257.4 199.7 265 202.4 265 134.6 157 134.6 157 207.2Z" fill="#2c84f0"/>
<path d="M157 194.2 157 194.7 163.3 190.1 169.2 186.2 171.9 184.9 175.9 183.5 180 182.3 186.7 180.7 195.1 179.8 203.6 179.2 210.3 179.3 219.8 180 227.9 181.4 245.4 185.4 265 192 265 134.6 157 134.6 157 194.2Z" fill="#22a0e4"/>
<path d="M157 175 157 175.7 265 175.7 265 134.6 157 134.6 157 175Z" fill="#2ec0a0"/>
<path d="M202.4 168.9 206.3 168.9 210.3 168.5 225.2 165.5 233.3 164.5 238 163.5 246.8 162.5 265 159 265 134.6 157 134.6 157 153.4 159.7 154.5 163.8 156.8 165.8 158.2 169.2 161.3 170.5 162 173.9 162.9 178.6 164.5 182.7 165.5 186 166.6 190.8 167.8 197.5 168.6 202.4 168.9Z" fill="#58d47a"/>
<path d="M201.8 166.1 206.3 166.3 211 165.7 234.2 160 238.7 158.4 248.8 153.4 252.2 152 258.9 149.9 265 148.5 265 134.6 157 134.6 157 144.7 158.4 144.5 160.4 144.8 162.4 145.6 165.1 147.1 166.5 148.3 170.5 153.5 176 158.6 181.2 161.3 186 163.4 188.7 164 201.8 166.1Z" fill="#f6ba34"/>
<path d="M200.3 162.7 204.9 163.3 211.2 162.7 216.5 161.3 223.8 158.6 226.7 157.2 228.6 155.8 233.3 151.2 237.3 146.2 239.3 144.4 241.5 142.8 242.7 142.2 244.7 141.5 250.1 140.4 258.9 139.4 265 139.2 265 134.6 171.4 134.6 173.2 135.8 174.6 137.4 176.6 141.7 178.6 147.1 180.6 151.2 182.7 154.3 185.2 157.2 186.7 158.3 188.7 159.2 200.3 162.7Z" fill="#f8d820"/>
<path d="M178.8 216.8 180 215.5 181.3 202.3 182 200.1 183.3 197.6 184 196.9 186.7 195 189.8 192.1 191.4 190.9 194.9 189.4 198.9 188 202.9 187.3 206.3 187.2 211 187.4 219.5 188.7 221.9 189.4 227.2 192.2 234.6 198.1 240.7 202.3 244.1 204.1 247.4 205.3 253.5 206.9 259.6 208.2 265 209.1M157 207.8 158.4 207.6 160.4 206.8 163.1 205.4 165.1 204 168.5 200.7 171.2 197.1 173.9 193.8 175.2 192.5 176.8 191.4 181.5 189.4 186.7 188.2 192.1 185.5 198.9 183.5 201.6 183 204.3 182.7 210.3 182.9 218.4 183.6 221.8 184.1 226 185.3 229.3 186.7 247.3 195.6 257.4 199.7 265 202.4M157 194.7 162.3 190.8 167.8 187 171 185.3 174.6 183.9 179.1 182.5 186.7 180.7 195.1 179.8 203.6 179.2 210.3 179.3 219.8 180 227.9 181.4 245.4 185.4 265 192M157 175.7 265 175.7M157 153.4 159.7 154.5 163.8 156.8 165.8 158.2 169.2 161.3 170.5 162 173.9 162.9 178.6 164.5 182.7 165.5 186 166.6 190.1 167.7 192.1 168 200.2 168.8 205.6 168.9 210.3 168.5 225.2 165.5 233.3 164.5 238 163.5 246.8 162.5 265 159M157 144.7 158.4 144.5 160.4 144.8 162.4 145.6 165.1 147.1 166.5 148.3 170.5 153.5 175.9 158.5 182.6 162 186 163.4 188.1 163.9 200.2 165.9 204.3 166.3 208.3 166.1 213 165.3 224.5 162.2 234.2 160 238.7 158.4 248.8 153.4 252.2 152 258.9 149.9 265 148.5M171.4 134.6 173.2 135.8 174.6 137.4 176.6 141.7 178.6 147.1 180.6 151.2 182.7 154.3 185.4 157.3 186.7 158.3 188.9 159.3 200.2 162.7 204.3 163.3 207 163.2 211.2 162.7 214.2 162 220.4 160 226.7 157.2 229.4 155.2 233.3 151.2 238 145.5 240.7 143.4 242.9 142.2 246.8 141 251.5 140.2 259.6 139.4 265 139.2" fill="none" stroke="#000" stroke-opacity="0.50" stroke-width="0.50"/>
<path d="M215.9 149.7C215.9 150.7 215.3 151.9 214.4 152.8C213.5 153.6 212 154.5 210.4 155C208.9 155.5 206.8 155.8 205 155.8C203.2 155.8 201.1 155.5 199.6 155C198 154.5 196.5 153.6 195.6 152.8C194.7 151.9 194.1 150.7 194.1 149.7C194.1 148.7 194.7 147.5 195.6 146.6C196.5 145.8 198 144.9 199.5 144.4C201.1 143.9 203.2 143.6 205 143.6C206.8 143.6 208.9 143.9 210.4 144.4C212 144.9 213.5 145.8 214.4 146.6C215.3 147.5 215.9 148.7 215.9 149.7Z" fill="#f5f80c" stroke="#000" stroke-opacity="0.5" stroke-width="0.5"/>
<path d="M215.7 200.8C215.7 201.7 215.2 202.8 214.3 203.6C213.4 204.3 212 205.1 210.4 205.6C208.9 206 206.9 206.3 205.2 206.3C203.4 206.3 201.5 206 199.9 205.6C198.4 205.1 197 204.3 196.1 203.6C195.2 202.8 194.7 201.7 194.7 200.8C194.7 199.9 195.2 198.8 196.1 198.1C197 197.3 198.4 196.5 199.9 196C201.5 195.6 203.4 195.3 205.2 195.3C206.9 195.3 208.9 195.6 210.4 196C212 196.5 213.4 197.3 214.3 198.1C215.2 198.8 215.7 199.9 215.7 200.8Z" fill="none" stroke="#000" stroke-opacity="0.5" stroke-width="0.5"/>
<path d="M158.6 214.8H263.4" stroke="#140a60" stroke-width="0.8" stroke-opacity="0.8"/>
</g>
<g mask="url(#cpf)">
<rect x="294.3" y="134.2" width="108.8" height="83" fill="#30209c"/>
<path d="M317.3 216.1 324.4 216.8 402.7 216.8 402.7 134.6 294.7 134.6 294.7 213.3 317.3 216.1Z" fill="#3c28b6"/>
<path d="M294.7 205.8 294.7 206.2 309.6 202.9 323.1 200.6 333.9 199.4 344 198.7 360.2 198.7 376.4 199.2 390.1 200.3 402.7 202.1 402.7 134.6 294.7 134.6 294.7 205.8Z" fill="#4262f2"/>
<path d="M294.7 192.8 294.7 193.3 310.2 190.6 324.4 188.8 335.9 187.9 347.4 187.5 361.5 187.7 375.7 188.4 389.2 189.8 402.7 191.8 402.7 134.6 294.7 134.6 294.7 192.8Z" fill="#22a0e4"/>
<path d="M294.7 175.7 294.7 175.9 402.7 175.9 402.7 134.6 294.7 134.6 294.7 175.7Z" fill="#2ec0a0"/>
<path d="M336.6 164.1 344 164.4 351.4 164.5 361.5 164.3 371 163.9 387.2 162.6 395.3 161.5 402.7 160.3 402.7 134.6 294.7 134.6 294.7 157.9 306.2 160.2 316.3 161.9 326.4 163.2 336.6 164.1Z" fill="#bac632"/>
<path d="M344.3 151.7 359.5 151.7 374.3 151 389.2 149.6 402.7 147.6 402.7 134.6 294.7 134.6 294.7 146.3 307.5 148.5 319.7 150.1 332.5 151.2 344.3 151.7Z" fill="#f8d820"/>
<path d="M390.8 139.4 402.7 139.6 402.7 134.6 294.7 134.6 294.7 138.3 351.4 138.8 390.8 139.4Z" fill="#f5f80c"/>
<path d="M294.7 213.3 310.2 215.3 324.4 216.8M294.7 206.2 308.2 203.2 320.4 201 332.5 199.5 344 198.7 360.2 198.7 376.4 199.2 390.1 200.3 402.7 202.1M294.7 193.3 308.2 190.9 321.7 189.1 334.5 188 346.7 187.5 361.5 187.7 375.7 188.4 389.2 189.8 402.7 191.8M294.7 175.9 402.7 175.9M294.7 157.9 308.2 160.6 321 162.5 333.2 163.8 345.3 164.4 360.8 164.4 375.7 163.6 389.2 162.3 402.7 160.3M294.7 146.3 308.2 148.6 321 150.2 333.9 151.3 346.7 151.8 361.5 151.6 375.7 150.9 389.9 149.5 402.7 147.6M294.7 138.3 354.8 138.9 402.7 139.6" fill="none" stroke="#000" stroke-opacity="0.50" stroke-width="0.50"/>
<path d="M296.3 214.8H401.1" stroke="#140a60" stroke-width="0.8" stroke-opacity="0.8"/>
</g>
<rect x="425.7" y="199.88" width="6.4" height="15.77" fill="#3c28b6"/>
<rect x="425.7" y="184.17" width="6.4" height="15.77" fill="#4840ec"/>
<rect x="425.7" y="168.45" width="6.4" height="15.77" fill="#4262f2"/>
<rect x="425.7" y="152.73" width="6.4" height="15.77" fill="#2c84f0"/>
<rect x="425.7" y="137.02" width="6.4" height="15.77" fill="#22a0e4"/>
<rect x="425.7" y="121.30" width="6.4" height="15.77" fill="#16b6d4"/>
<rect x="425.7" y="105.58" width="6.4" height="15.77" fill="#2ec0a0"/>
<rect x="425.7" y="89.87" width="6.4" height="15.77" fill="#58d47a"/>
<rect x="425.7" y="74.15" width="6.4" height="15.77" fill="#bac632"/>
<rect x="425.7" y="58.43" width="6.4" height="15.77" fill="#f6ba34"/>
<rect x="425.7" y="42.72" width="6.4" height="15.77" fill="#f8d820"/>
<rect x="425.7" y="27.00" width="6.4" height="15.77" fill="#f5f80c"/>
<path d="M430.8 57.0H432.1" stroke="#333" stroke-width="0.5"/>
<path d="M430.8 86.8H432.1" stroke="#333" stroke-width="0.5"/>
<path d="M430.8 116.6H432.1" stroke="#333" stroke-width="0.5"/>
<path d="M430.8 146.4H432.1" stroke="#333" stroke-width="0.5"/>
<path d="M430.8 176.2H432.1" stroke="#333" stroke-width="0.5"/>
<path d="M430.8 206.0H432.1" stroke="#333" stroke-width="0.5"/>
</svg>
<div class="t tt" style="left:64.3px;top:21.5px;font-size:7.5px;transform:translate(-50%,-50%) scaleX(0.97)">(a) t= 0</div>
<div class="t" style="left:18.5px;top:26.0px;font-size:7.0px;transform:translate(-100%,-50%)">1</div>
<div class="t" style="left:18.5px;top:45.8px;font-size:7.0px;transform:translate(-100%,-50%)">0.5</div>
<div class="t" style="left:18.5px;top:65.5px;font-size:7.0px;transform:translate(-100%,-50%)">0</div>
<div class="t" style="left:18.5px;top:85.2px;font-size:7.0px;transform:translate(-100%,-50%)">-0.5</div>
<div class="t" style="left:18.5px;top:105.0px;font-size:7.0px;transform:translate(-100%,-50%)">-1</div>
<div class="t" style="left:20.9px;top:112.0px;font-size:7.0px;transform:translate(-50%,-50%)">2.5</div>
<div class="t" style="left:47.1px;top:112.0px;font-size:7.0px;transform:translate(-50%,-50%)">3</div>
<div class="t" style="left:73.3px;top:112.0px;font-size:7.0px;transform:translate(-50%,-50%)">3.5</div>
<div class="t" style="left:99.5px;top:112.0px;font-size:7.0px;transform:translate(-50%,-50%)">4</div>
<div class="t" style="left:73.3px;top:120.5px;font-size:7.0px;transform:translate(-50%,-50%)">x</div>
<div class="t" style="left:-0.1px;top:65.5px;font-size:7.0px;transform:translate(-50%,-50%) rotate(-90deg)">y</div>
<div class="t tt" style="left:202.0px;top:21.5px;font-size:7.5px;transform:translate(-50%,-50%) scaleX(0.97)">(b) t= 7</div>
<div class="t" style="left:156.2px;top:26.0px;font-size:7.0px;transform:translate(-100%,-50%)">1</div>
<div class="t" style="left:156.2px;top:45.8px;font-size:7.0px;transform:translate(-100%,-50%)">0.5</div>
<div class="t" style="left:156.2px;top:65.5px;font-size:7.0px;transform:translate(-100%,-50%)">0</div>
<div class="t" style="left:156.2px;top:85.2px;font-size:7.0px;transform:translate(-100%,-50%)">-0.5</div>
<div class="t" style="left:156.2px;top:105.0px;font-size:7.0px;transform:translate(-100%,-50%)">-1</div>
<div class="t" style="left:158.6px;top:112.0px;font-size:7.0px;transform:translate(-50%,-50%)">2.5</div>
<div class="t" style="left:184.8px;top:112.0px;font-size:7.0px;transform:translate(-50%,-50%)">3</div>
<div class="t" style="left:211.0px;top:112.0px;font-size:7.0px;transform:translate(-50%,-50%)">3.5</div>
<div class="t" style="left:237.2px;top:112.0px;font-size:7.0px;transform:translate(-50%,-50%)">4</div>
<div class="t" style="left:211.0px;top:120.5px;font-size:7.0px;transform:translate(-50%,-50%)">x</div>
<div class="t" style="left:137.6px;top:65.5px;font-size:7.0px;transform:translate(-50%,-50%) rotate(-90deg)">y</div>
<div class="t tt" style="left:339.7px;top:21.5px;font-size:7.5px;transform:translate(-50%,-50%) scaleX(0.97)">(c) t= 9</div>
<div class="t" style="left:293.9px;top:26.0px;font-size:7.0px;transform:translate(-100%,-50%)">1</div>
<div class="t" style="left:293.9px;top:45.8px;font-size:7.0px;transform:translate(-100%,-50%)">0.5</div>
<div class="t" style="left:293.9px;top:65.5px;font-size:7.0px;transform:translate(-100%,-50%)">0</div>
<div class="t" style="left:293.9px;top:85.2px;font-size:7.0px;transform:translate(-100%,-50%)">-0.5</div>
<div class="t" style="left:293.9px;top:105.0px;font-size:7.0px;transform:translate(-100%,-50%)">-1</div>
<div class="t" style="left:296.3px;top:112.0px;font-size:7.0px;transform:translate(-50%,-50%)">2.5</div>
<div class="t" style="left:322.5px;top:112.0px;font-size:7.0px;transform:translate(-50%,-50%)">3</div>
<div class="t" style="left:348.7px;top:112.0px;font-size:7.0px;transform:translate(-50%,-50%)">3.5</div>
<div class="t" style="left:374.9px;top:112.0px;font-size:7.0px;transform:translate(-50%,-50%)">4</div>
<div class="t" style="left:348.7px;top:120.5px;font-size:7.0px;transform:translate(-50%,-50%)">x</div>
<div class="t" style="left:275.3px;top:65.5px;font-size:7.0px;transform:translate(-50%,-50%) rotate(-90deg)">y</div>
<div class="t tt" style="left:64.3px;top:131.7px;font-size:7.5px;transform:translate(-50%,-50%) scaleX(0.97)">(d) t=13</div>
<div class="t" style="left:18.5px;top:136.2px;font-size:7.0px;transform:translate(-100%,-50%)">1</div>
<div class="t" style="left:18.5px;top:155.9px;font-size:7.0px;transform:translate(-100%,-50%)">0.5</div>
<div class="t" style="left:18.5px;top:175.7px;font-size:7.0px;transform:translate(-100%,-50%)">0</div>
<div class="t" style="left:18.5px;top:195.4px;font-size:7.0px;transform:translate(-100%,-50%)">-0.5</div>
<div class="t" style="left:18.5px;top:215.2px;font-size:7.0px;transform:translate(-100%,-50%)">-1</div>
<div class="t" style="left:20.9px;top:222.2px;font-size:7.0px;transform:translate(-50%,-50%)">2.5</div>
<div class="t" style="left:47.1px;top:222.2px;font-size:7.0px;transform:translate(-50%,-50%)">3</div>
<div class="t" style="left:73.3px;top:222.2px;font-size:7.0px;transform:translate(-50%,-50%)">3.5</div>
<div class="t" style="left:99.5px;top:222.2px;font-size:7.0px;transform:translate(-50%,-50%)">4</div>
<div class="t" style="left:73.3px;top:230.7px;font-size:7.0px;transform:translate(-50%,-50%)">x</div>
<div class="t" style="left:-0.1px;top:175.7px;font-size:7.0px;transform:translate(-50%,-50%) rotate(-90deg)">y</div>
<div class="t tt" style="left:202.0px;top:131.7px;font-size:7.5px;transform:translate(-50%,-50%) scaleX(0.97)">(e) t=14</div>
<div class="t" style="left:156.2px;top:136.2px;font-size:7.0px;transform:translate(-100%,-50%)">1</div>
<div class="t" style="left:156.2px;top:155.9px;font-size:7.0px;transform:translate(-100%,-50%)">0.5</div>
<div class="t" style="left:156.2px;top:175.7px;font-size:7.0px;transform:translate(-100%,-50%)">0</div>
<div class="t" style="left:156.2px;top:195.4px;font-size:7.0px;transform:translate(-100%,-50%)">-0.5</div>
<div class="t" style="left:156.2px;top:215.2px;font-size:7.0px;transform:translate(-100%,-50%)">-1</div>
<div class="t" style="left:158.6px;top:222.2px;font-size:7.0px;transform:translate(-50%,-50%)">2.5</div>
<div class="t" style="left:184.8px;top:222.2px;font-size:7.0px;transform:translate(-50%,-50%)">3</div>
<div class="t" style="left:211.0px;top:222.2px;font-size:7.0px;transform:translate(-50%,-50%)">3.5</div>
<div class="t" style="left:237.2px;top:222.2px;font-size:7.0px;transform:translate(-50%,-50%)">4</div>
<div class="t" style="left:211.0px;top:230.7px;font-size:7.0px;transform:translate(-50%,-50%)">x</div>
<div class="t" style="left:137.6px;top:175.7px;font-size:7.0px;transform:translate(-50%,-50%) rotate(-90deg)">y</div>
<div class="t tt" style="left:340.5px;top:131.7px;font-size:7.5px;transform:translate(-50%,-50%) scaleX(0.97)">(f) t=17</div>
<div class="t" style="left:293.9px;top:136.2px;font-size:7.0px;transform:translate(-100%,-50%)">1</div>
<div class="t" style="left:293.9px;top:155.9px;font-size:7.0px;transform:translate(-100%,-50%)">0.5</div>
<div class="t" style="left:293.9px;top:175.7px;font-size:7.0px;transform:translate(-100%,-50%)">0</div>
<div class="t" style="left:293.9px;top:195.4px;font-size:7.0px;transform:translate(-100%,-50%)">-0.5</div>
<div class="t" style="left:293.9px;top:215.2px;font-size:7.0px;transform:translate(-100%,-50%)">-1</div>
<div class="t" style="left:296.3px;top:222.2px;font-size:7.0px;transform:translate(-50%,-50%)">2.5</div>
<div class="t" style="left:322.5px;top:222.2px;font-size:7.0px;transform:translate(-50%,-50%)">3</div>
<div class="t" style="left:348.7px;top:222.2px;font-size:7.0px;transform:translate(-50%,-50%)">3.5</div>
<div class="t" style="left:374.9px;top:222.2px;font-size:7.0px;transform:translate(-50%,-50%)">4</div>
<div class="t" style="left:348.7px;top:230.7px;font-size:7.0px;transform:translate(-50%,-50%)">x</div>
<div class="t" style="left:275.3px;top:175.7px;font-size:7.0px;transform:translate(-50%,-50%) rotate(-90deg)">y</div>
<div class="t cb" style="left:434.2px;top:56.6px;font-size:6.4px;transform:translate(0,-50%)">0.1</div>
<div class="t cb" style="left:434.2px;top:86.4px;font-size:6.4px;transform:translate(0,-50%)">0.05</div>
<div class="t cb" style="left:434.2px;top:116.2px;font-size:6.4px;transform:translate(0,-50%)">0</div>
<div class="t cb" style="left:434.2px;top:146.0px;font-size:6.4px;transform:translate(0,-50%)">-0.05</div>
<div class="t cb" style="left:434.2px;top:175.8px;font-size:6.4px;transform:translate(0,-50%)">-0.1</div>
<div class="t cb" style="left:434.2px;top:205.6px;font-size:6.4px;transform:translate(0,-50%)">-0.15</div>
</body></html>
